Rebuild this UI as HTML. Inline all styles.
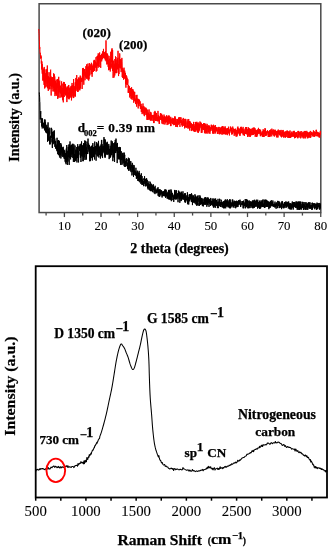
<!DOCTYPE html>
<html><head><meta charset="utf-8"><style>
html,body{margin:0;padding:0;background:#fff;width:331px;height:550px;overflow:hidden}
svg{display:block}
text{font-family:"Liberation Serif","Times New Roman",serif}
.b{font-weight:bold;stroke:#000;stroke-width:0.25px}
</style></head><body>
<svg width="331" height="550" viewBox="0 0 331 550">
<rect width="331" height="550" fill="#fff"/>
<!-- top plot -->
<rect x="39.1" y="3.75" width="281.70" height="208.80" fill="none" stroke="#4a4a4a" stroke-width="1.5"/>
<polyline points="38.80,29.00 38.92,31.66 39.04,33.50 39.16,35.39 39.28,39.07 39.40,41.16 39.52,44.79 39.64,48.86 39.76,47.13 39.88,48.57 40.00,51.91 40.12,52.87 40.24,53.60 40.36,52.87 40.48,55.75 40.60,58.42 40.72,55.18 40.84,58.28 40.96,55.77 41.08,58.08 41.20,57.40 41.32,63.60 41.44,60.86 41.56,68.46 41.68,69.46 41.80,69.16 41.92,61.42 42.04,69.40 42.16,72.53 42.28,73.73 42.40,64.19 42.52,70.68 42.64,67.91 42.76,69.15 42.88,80.62 43.00,69.61 43.12,74.52 43.24,80.31 43.36,71.64 43.48,74.74 43.60,76.34 43.72,76.29 43.84,68.61 43.96,76.84 44.08,84.92 44.20,66.94 44.32,82.06 44.44,77.50 44.56,72.75 44.68,88.47 44.80,81.90 44.92,69.30 45.04,77.64 45.16,81.02 45.28,76.07 45.40,81.94 45.52,77.03 45.64,82.05 45.76,87.38 45.88,73.12 46.00,79.19 46.12,74.69 46.24,78.85 46.36,69.76 46.48,74.06 46.60,76.82 46.72,84.67 46.84,86.54 46.96,68.95 47.08,72.79 47.20,83.31 47.32,65.50 47.44,75.37 47.56,78.14 47.68,88.27 47.80,84.16 47.92,76.64 48.04,76.43 48.16,77.47 48.28,90.89 48.40,76.44 48.52,77.52 48.64,82.54 48.76,79.18 48.88,78.76 49.00,72.17 49.12,80.43 49.24,77.41 49.36,89.30 49.48,85.69 49.60,80.92 49.72,86.07 49.84,78.94 49.96,89.09 50.08,81.64 50.20,85.99 50.32,72.78 50.44,84.57 50.56,70.31 50.68,69.66 50.80,80.41 50.92,76.38 51.04,83.99 51.16,95.57 51.28,77.35 51.40,78.95 51.52,84.84 51.64,86.96 51.76,82.50 51.88,82.45 52.00,88.79 52.12,87.65 52.24,77.20 52.36,83.79 52.48,84.68 52.60,77.43 52.72,86.41 52.84,79.00 52.96,91.40 53.08,86.28 53.20,85.69 53.32,81.27 53.44,84.53 53.56,73.43 53.68,78.04 53.80,88.04 53.92,73.84 54.04,91.44 54.16,74.50 54.28,91.04 54.40,80.66 54.52,91.39 54.64,87.26 54.76,76.53 54.88,94.73 55.00,96.07 55.12,86.43 55.24,85.19 55.36,86.04 55.48,80.92 55.60,94.32 55.72,83.93 55.84,87.18 55.96,82.57 56.08,83.69 56.20,79.57 56.32,95.77 56.44,86.80 56.56,94.01 56.68,87.94 56.80,83.43 56.92,85.82 57.04,84.35 57.16,88.05 57.28,85.61 57.40,86.13 57.52,79.15 57.64,82.89 57.76,98.96 57.88,83.83 58.00,81.36 58.12,90.50 58.24,97.56 58.36,78.80 58.48,87.02 58.60,84.26 58.72,76.83 58.84,93.37 58.96,88.38 59.08,89.05 59.20,83.61 59.32,91.68 59.44,85.08 59.56,87.76 59.68,81.33 59.80,80.63 59.92,97.80 60.04,85.48 60.16,90.94 60.28,88.86 60.40,86.26 60.52,85.93 60.64,93.53 60.76,87.50 60.88,88.59 61.00,89.82 61.12,97.38 61.24,94.26 61.36,92.43 61.48,86.48 61.60,81.39 61.72,96.28 61.84,96.46 61.96,89.59 62.08,93.95 62.20,95.53 62.33,95.91 62.45,96.54 62.57,88.17 62.69,100.31 62.81,83.59 62.93,96.47 63.05,94.34 63.17,96.70 63.29,102.33 63.41,100.47 63.53,84.99 63.65,81.93 63.77,96.74 63.89,86.14 64.01,92.08 64.13,97.03 64.25,82.84 64.37,82.03 64.49,93.80 64.61,92.63 64.73,91.06 64.85,92.69 64.97,87.80 65.09,84.32 65.21,91.71 65.33,87.44 65.45,83.94 65.57,95.44 65.69,92.48 65.81,94.97 65.93,87.77 66.05,89.56 66.17,87.89 66.29,88.54 66.41,94.07 66.53,89.22 66.65,94.94 66.77,94.89 66.89,102.08 67.01,86.57 67.13,97.63 67.25,92.98 67.37,93.39 67.49,86.70 67.61,91.41 67.73,97.02 67.85,93.26 67.97,94.05 68.09,92.34 68.21,98.85 68.33,93.45 68.45,85.25 68.57,90.27 68.69,85.10 68.81,85.03 68.93,90.83 69.05,99.37 69.17,93.38 69.29,87.67 69.41,88.68 69.53,98.26 69.65,93.67 69.77,93.11 69.89,92.58 70.01,92.95 70.13,96.51 70.25,95.27 70.37,93.63 70.49,87.61 70.61,94.92 70.73,89.18 70.85,97.60 70.97,86.25 71.09,91.61 71.21,92.18 71.33,85.79 71.45,100.41 71.57,99.10 71.69,89.75 71.81,95.68 71.93,93.72 72.05,82.94 72.17,92.81 72.29,91.06 72.41,91.59 72.53,85.46 72.65,89.37 72.77,89.63 72.89,96.64 73.01,91.95 73.13,89.93 73.25,98.09 73.37,86.50 73.49,87.19 73.61,79.02 73.73,97.85 73.85,94.28 73.97,93.86 74.09,92.26 74.21,88.80 74.33,89.23 74.45,86.24 74.57,86.32 74.69,87.68 74.81,96.48 74.93,90.41 75.05,86.38 75.17,82.87 75.29,82.28 75.41,96.48 75.53,89.24 75.65,86.18 75.77,83.25 75.89,77.93 76.01,84.69 76.13,90.81 76.25,82.41 76.37,83.42 76.49,83.39 76.61,85.33 76.73,75.07 76.85,83.10 76.97,79.50 77.09,89.22 77.21,79.98 77.33,87.16 77.45,91.92 77.57,82.30 77.69,80.82 77.81,84.63 77.93,83.60 78.05,78.93 78.17,85.56 78.29,91.66 78.41,82.08 78.53,82.25 78.65,78.31 78.77,84.47 78.89,77.24 79.01,77.80 79.13,88.58 79.25,78.56 79.37,87.49 79.49,89.41 79.61,83.60 79.73,84.84 79.85,90.39 79.97,81.29 80.09,79.32 80.21,75.59 80.33,81.84 80.45,88.49 80.57,85.91 80.69,76.49 80.81,76.67 80.93,78.20 81.05,82.04 81.17,79.31 81.29,81.31 81.41,81.57 81.53,78.21 81.65,79.42 81.77,80.59 81.89,78.80 82.01,81.92 82.13,88.97 82.25,81.93 82.37,78.73 82.49,69.01 82.61,80.09 82.73,68.09 82.85,70.06 82.97,81.83 83.09,80.80 83.21,76.12 83.33,67.91 83.45,74.57 83.57,72.82 83.69,79.19 83.81,84.72 83.93,76.64 84.05,71.61 84.17,69.56 84.29,74.91 84.41,74.21 84.53,69.26 84.65,75.45 84.77,68.99 84.89,80.25 85.01,79.91 85.13,79.94 85.25,71.91 85.37,76.85 85.49,73.43 85.61,71.99 85.73,72.13 85.85,67.01 85.97,66.12 86.09,77.76 86.21,72.56 86.33,74.63 86.45,78.65 86.57,64.41 86.69,69.28 86.81,74.19 86.93,75.25 87.05,71.24 87.17,78.40 87.29,74.15 87.41,66.82 87.53,68.22 87.65,77.00 87.77,75.21 87.89,63.65 88.01,79.54 88.13,75.58 88.25,79.13 88.37,70.36 88.49,70.65 88.61,66.43 88.73,80.60 88.85,70.79 88.97,79.13 89.09,68.24 89.21,71.95 89.33,63.13 89.45,69.07 89.57,75.30 89.69,64.75 89.81,75.33 89.93,71.78 90.05,65.38 90.17,67.83 90.29,68.00 90.41,69.86 90.53,67.60 90.65,66.23 90.77,68.62 90.89,65.25 91.01,64.00 91.13,69.76 91.25,74.09 91.37,62.78 91.49,69.94 91.61,66.85 91.73,65.28 91.85,73.91 91.97,67.40 92.09,76.78 92.21,65.95 92.33,71.20 92.45,68.23 92.57,65.72 92.69,71.56 92.81,68.11 92.93,71.26 93.05,68.28 93.17,63.73 93.29,67.74 93.41,68.23 93.53,71.77 93.65,64.05 93.77,67.39 93.89,60.64 94.01,69.76 94.13,62.87 94.25,59.87 94.37,66.51 94.49,70.90 94.61,60.43 94.73,61.97 94.85,63.15 94.97,61.45 95.09,67.25 95.21,62.38 95.33,62.55 95.45,67.58 95.57,62.07 95.69,66.66 95.81,60.86 95.93,59.71 96.05,57.12 96.17,71.60 96.29,62.76 96.41,64.90 96.53,63.59 96.65,64.21 96.77,63.57 96.89,70.84 97.01,58.58 97.13,56.14 97.25,58.28 97.37,56.67 97.49,65.57 97.61,65.74 97.73,57.68 97.85,55.57 97.97,60.00 98.09,67.75 98.21,53.30 98.33,63.72 98.45,56.44 98.57,65.88 98.69,56.29 98.81,59.78 98.93,54.22 99.05,56.53 99.17,67.08 99.29,64.46 99.41,58.90 99.53,56.72 99.65,52.44 99.77,58.72 99.89,60.28 100.01,59.96 100.13,59.79 100.25,55.02 100.37,59.66 100.49,59.66 100.61,65.58 100.73,67.82 100.85,58.83 100.97,55.81 101.09,58.90 101.21,56.28 101.33,55.52 101.45,58.55 101.57,53.86 101.69,61.39 101.81,57.96 101.93,59.49 102.05,57.36 102.17,54.74 102.29,53.63 102.41,56.88 102.53,55.35 102.65,58.93 102.77,57.75 102.89,51.33 103.01,57.93 103.13,51.28 103.25,54.59 103.37,56.02 103.49,48.90 103.61,57.67 103.73,57.87 103.85,56.36 103.97,55.04 104.09,55.35 104.21,52.69 104.33,56.04 104.45,54.86 104.57,57.87 104.69,52.19 104.81,58.69 104.93,58.38 105.05,57.23 105.17,56.04 105.29,60.40 105.41,51.05 105.53,60.17 105.65,59.34 105.77,59.60 105.89,60.10 106.01,40.40 106.13,57.72 106.25,61.54 106.37,60.85 106.49,60.10 106.61,53.32 106.73,61.76 106.85,64.45 106.97,63.96 107.09,61.01 107.21,54.04 107.33,64.14 107.45,59.98 107.57,53.60 107.69,62.37 107.81,55.20 107.93,56.14 108.05,58.84 108.17,66.82 108.29,60.09 108.41,63.08 108.53,70.18 108.65,69.90 108.77,61.83 108.89,61.26 109.01,55.92 109.13,59.00 109.26,65.42 109.38,65.48 109.50,63.98 109.62,69.66 109.74,58.71 109.86,63.44 109.98,68.88 110.10,68.03 110.22,71.52 110.34,66.93 110.46,61.96 110.58,66.85 110.70,56.87 110.82,52.05 110.94,68.75 111.06,63.97 111.18,66.85 111.30,51.07 111.42,61.61 111.54,59.71 111.66,57.52 111.78,49.62 111.90,61.89 112.02,48.30 112.14,67.95 112.26,59.71 112.38,64.60 112.50,70.90 112.62,50.08 112.74,63.70 112.86,68.99 112.98,70.03 113.10,77.87 113.22,73.37 113.34,67.02 113.46,66.91 113.58,70.48 113.70,60.66 113.82,64.32 113.94,71.11 114.06,77.50 114.18,63.67 114.30,64.59 114.42,66.44 114.54,74.48 114.66,65.11 114.78,75.47 114.90,59.04 115.02,64.47 115.14,64.53 115.26,71.19 115.38,72.99 115.50,56.39 115.62,60.45 115.74,68.68 115.86,62.44 115.98,57.13 116.10,73.26 116.22,69.65 116.34,69.49 116.46,63.10 116.58,72.65 116.70,64.27 116.82,72.81 116.94,59.51 117.06,59.70 117.18,66.51 117.30,60.32 117.42,69.33 117.54,66.39 117.66,58.26 117.78,64.81 117.90,61.76 118.02,50.80 118.14,59.70 118.26,61.02 118.38,72.13 118.50,76.07 118.62,76.01 118.74,64.38 118.86,65.40 118.98,74.04 119.10,63.13 119.22,57.58 119.34,64.69 119.46,66.84 119.58,58.59 119.70,53.38 119.82,54.76 119.94,68.12 120.06,59.21 120.18,63.27 120.30,65.65 120.42,68.30 120.54,62.65 120.66,67.85 120.78,59.72 120.90,63.06 121.02,59.38 121.14,72.11 121.26,65.57 121.38,61.70 121.50,64.09 121.62,65.01 121.74,70.28 121.86,57.88 121.98,61.16 122.10,65.15 122.22,76.99 122.34,72.90 122.46,67.92 122.58,72.38 122.70,77.96 122.82,68.70 122.94,68.56 123.06,76.05 123.18,73.24 123.30,74.38 123.42,69.88 123.54,79.66 123.66,79.53 123.78,75.44 123.90,76.25 124.02,67.67 124.14,76.90 124.26,74.34 124.38,77.03 124.50,78.37 124.62,75.11 124.74,70.68 124.86,78.54 124.98,74.97 125.10,76.89 125.22,76.33 125.34,77.72 125.46,72.85 125.58,84.23 125.70,81.17 125.82,84.72 125.94,87.68 126.06,81.56 126.18,75.21 126.30,78.76 126.42,77.89 126.54,80.71 126.66,83.07 126.78,76.51 126.90,84.54 127.02,78.11 127.14,84.90 127.26,83.69 127.38,83.22 127.50,84.35 127.62,82.93 127.74,82.93 127.86,79.34 127.98,85.55 128.10,92.49 128.22,92.84 128.34,91.45 128.46,89.59 128.58,84.96 128.70,92.95 128.82,87.89 128.94,88.20 129.06,87.75 129.18,89.48 129.30,87.93 129.42,89.55 129.54,86.28 129.66,89.20 129.78,97.45 129.90,91.00 130.02,90.71 130.14,93.68 130.26,94.49 130.38,88.06 130.50,91.52 130.62,95.78 130.74,93.60 130.86,93.24 130.98,98.61 131.10,90.69 131.22,93.62 131.34,91.61 131.46,99.07 131.58,87.29 131.70,91.58 131.82,92.27 131.94,96.77 132.06,96.74 132.18,99.77 132.30,89.18 132.42,97.78 132.54,94.17 132.66,92.99 132.78,97.54 132.90,92.42 133.02,89.38 133.14,94.76 133.26,90.84 133.38,94.10 133.50,97.97 133.62,97.93 133.74,102.73 133.86,96.42 133.98,91.76 134.10,94.76 134.22,94.34 134.34,93.44 134.46,99.61 134.58,95.87 134.70,91.85 134.82,101.08 134.94,98.33 135.06,100.20 135.18,99.47 135.30,101.55 135.42,99.58 135.54,104.08 135.66,101.33 135.78,101.39 135.90,101.63 136.02,95.08 136.14,99.81 136.26,99.55 136.38,101.31 136.50,95.76 136.62,106.61 136.74,101.19 136.86,96.55 136.98,94.84 137.10,100.06 137.22,100.83 137.34,98.66 137.46,101.65 137.58,99.10 137.70,103.47 137.82,98.97 137.94,101.52 138.06,105.33 138.18,108.45 138.30,98.87 138.42,101.04 138.54,100.07 138.66,105.75 138.78,99.68 138.90,102.13 139.02,103.85 139.14,101.18 139.26,101.56 139.38,103.31 139.50,99.68 139.62,101.09 139.74,104.36 139.86,106.21 139.98,105.55 140.10,101.33 140.22,105.06 140.34,108.71 140.46,108.18 140.58,106.52 140.70,104.32 140.82,108.84 140.94,105.44 141.06,103.81 141.18,105.01 141.30,111.89 141.42,108.33 141.54,111.35 141.66,106.45 141.78,110.98 141.90,106.30 142.02,107.82 142.14,114.11 142.26,110.91 142.38,106.98 142.50,108.38 142.62,109.77 142.74,112.65 142.86,107.36 142.98,103.48 143.10,108.19 143.22,109.20 143.34,109.59 143.46,113.49 143.58,110.41 143.70,112.06 143.82,106.09 143.94,112.40 144.06,115.51 144.18,112.38 144.30,110.85 144.42,110.67 144.54,116.16 144.66,107.36 144.78,110.19 144.90,112.24 145.02,113.34 145.14,109.47 145.26,112.14 145.38,110.26 145.50,111.77 145.62,111.02 145.74,107.58 145.86,111.67 145.98,115.03 146.10,108.57 146.22,111.36 146.34,114.79 146.46,108.72 146.58,113.40 146.70,109.11 146.82,117.17 146.94,119.76 147.06,119.94 147.18,112.83 147.30,116.45 147.42,114.40 147.54,114.50 147.66,119.88 147.78,109.74 147.90,118.45 148.02,114.64 148.14,119.93 148.26,115.66 148.38,112.70 148.50,116.14 148.62,117.82 148.74,115.46 148.86,117.11 148.98,113.72 149.10,109.44 149.22,118.74 149.34,118.13 149.46,116.36 149.58,116.18 149.70,119.46 149.82,114.62 149.94,113.90 150.06,115.66 150.18,120.17 150.30,111.85 150.42,120.24 150.54,114.35 150.66,112.90 150.78,120.56 150.90,116.22 151.02,112.39 151.14,115.46 151.26,119.63 151.38,120.50 151.50,115.35 151.62,118.05 151.74,119.07 151.86,114.78 151.98,118.00 152.10,116.81 152.22,115.25 152.34,115.43 152.46,117.23 152.58,117.15 152.70,115.31 152.82,115.79 152.94,120.67 153.06,117.88 153.18,120.02 153.30,121.04 153.42,119.16 153.54,122.99 153.66,114.83 153.78,119.95 153.90,116.48 154.02,123.10 154.14,122.79 154.26,111.93 154.38,114.54 154.50,119.62 154.62,120.03 154.74,119.88 154.86,117.39 154.98,110.90 155.10,119.66 155.22,117.41 155.34,120.85 155.46,112.08 155.58,119.66 155.70,114.51 155.82,120.70 155.94,117.03 156.06,115.00 156.19,118.93 156.31,114.96 156.43,114.97 156.55,112.96 156.67,117.75 156.79,119.39 156.91,121.03 157.03,117.44 157.15,121.14 157.27,117.96 157.39,117.63 157.51,119.72 157.63,121.23 157.75,116.91 157.87,117.23 157.99,110.90 158.11,118.28 158.23,115.28 158.35,121.25 158.47,116.89 158.59,119.57 158.71,115.67 158.83,119.31 158.95,119.44 159.07,117.01 159.19,123.76 159.31,119.46 159.43,123.71 159.55,121.28 159.67,116.46 159.79,117.33 159.91,119.79 160.03,118.71 160.15,118.71 160.27,117.75 160.39,113.33 160.51,118.00 160.63,113.42 160.75,119.80 160.87,116.65 160.99,116.72 161.11,118.18 161.23,119.63 161.35,114.77 161.47,113.91 161.59,115.90 161.71,113.84 161.83,116.27 161.95,123.53 162.07,116.09 162.19,120.92 162.31,115.27 162.43,119.98 162.55,118.28 162.67,119.03 162.79,120.81 162.91,124.13 163.03,119.82 163.15,119.65 163.27,116.65 163.39,120.97 163.51,118.71 163.63,121.70 163.75,119.32 163.87,124.23 163.99,114.57 164.11,118.72 164.23,121.95 164.35,118.63 164.47,117.46 164.59,118.91 164.71,115.94 164.83,120.01 164.95,124.56 165.07,122.81 165.19,116.80 165.31,117.46 165.43,118.74 165.55,122.52 165.67,117.70 165.79,118.08 165.91,122.26 166.03,122.24 166.15,119.00 166.27,117.05 166.39,115.93 166.51,118.21 166.63,115.28 166.75,122.12 166.87,118.46 166.99,121.46 167.11,125.05 167.23,123.38 167.35,117.15 167.47,122.63 167.59,123.44 167.71,118.31 167.83,117.77 167.95,120.09 168.07,116.04 168.19,124.47 168.31,115.52 168.43,117.45 168.55,119.78 168.67,119.92 168.79,121.04 168.91,121.36 169.03,120.04 169.15,123.82 169.27,115.65 169.39,120.71 169.51,118.74 169.63,121.14 169.75,121.41 169.87,118.25 169.99,119.04 170.11,123.10 170.23,121.87 170.35,118.98 170.47,126.02 170.59,126.03 170.71,116.83 170.83,121.83 170.95,126.09 171.07,123.22 171.19,121.65 171.31,120.46 171.43,119.54 171.55,120.48 171.67,119.55 171.79,123.22 171.91,120.01 172.03,119.91 172.15,117.78 172.27,121.05 172.39,118.69 172.51,120.72 172.63,124.18 172.75,122.29 172.87,122.70 172.99,122.30 173.11,121.48 173.23,120.98 173.35,120.48 173.47,123.51 173.59,118.33 173.71,125.19 173.83,121.52 173.95,119.33 174.07,120.08 174.19,119.57 174.31,121.95 174.43,119.49 174.55,124.75 174.67,119.35 174.79,116.47 174.91,119.52 175.03,116.51 175.15,121.51 175.27,124.63 175.39,123.49 175.51,117.90 175.63,119.54 175.75,126.73 175.87,122.63 175.99,121.76 176.11,124.75 176.23,126.88 176.35,125.46 176.47,122.21 176.59,122.84 176.71,123.60 176.83,120.15 176.95,118.91 177.07,122.06 177.19,119.26 177.31,121.77 177.43,122.24 177.55,127.08 177.67,119.60 177.79,121.67 177.91,121.57 178.03,123.29 178.15,125.03 178.27,120.71 178.39,119.79 178.51,117.50 178.63,119.53 178.75,123.68 178.87,122.31 178.99,119.33 179.11,121.16 179.23,122.32 179.35,123.67 179.47,120.60 179.59,121.58 179.71,117.21 179.83,119.08 179.95,126.91 180.07,117.26 180.19,121.43 180.31,123.01 180.43,121.36 180.55,120.15 180.67,122.28 180.79,122.45 180.91,122.25 181.03,117.41 181.15,122.11 181.27,120.13 181.39,121.01 181.51,123.22 181.63,124.40 181.75,125.14 181.87,121.23 181.99,125.26 182.11,125.99 182.23,125.92 182.35,126.67 182.47,122.34 182.59,122.29 182.71,125.16 182.83,118.93 182.95,123.46 183.07,121.37 183.19,121.86 183.31,117.93 183.43,120.40 183.55,122.94 183.67,125.60 183.79,125.93 183.91,122.85 184.03,122.56 184.15,120.71 184.27,124.34 184.39,122.46 184.51,124.99 184.63,128.40 184.75,123.17 184.87,118.87 184.99,120.77 185.11,119.03 185.23,119.82 185.35,127.29 185.47,124.11 185.59,118.92 185.71,125.44 185.83,127.29 185.95,122.46 186.07,121.54 186.19,122.60 186.31,124.52 186.43,125.64 186.55,127.32 186.67,127.46 186.79,127.42 186.91,128.00 187.03,125.93 187.15,119.32 187.27,123.61 187.39,125.01 187.51,122.93 187.63,126.92 187.75,123.09 187.87,121.40 187.99,128.68 188.11,126.35 188.23,125.03 188.35,127.24 188.47,127.70 188.59,125.54 188.71,118.99 188.83,122.50 188.95,123.22 189.07,121.63 189.19,125.32 189.31,128.43 189.43,123.30 189.55,121.33 189.67,130.47 189.79,123.53 189.91,121.15 190.03,125.75 190.15,126.38 190.27,122.93 190.39,127.59 190.51,123.70 190.63,122.40 190.75,125.84 190.87,127.71 190.99,123.44 191.11,126.45 191.23,125.19 191.35,131.06 191.47,123.41 191.59,129.85 191.71,125.51 191.83,125.33 191.95,127.96 192.07,128.53 192.19,129.71 192.31,126.90 192.43,124.13 192.55,124.37 192.67,127.58 192.79,127.84 192.91,130.36 193.03,127.44 193.15,129.42 193.27,130.84 193.39,126.82 193.51,121.91 193.63,122.88 193.75,122.16 193.87,131.27 193.99,124.02 194.11,130.28 194.23,128.40 194.35,131.81 194.47,129.73 194.59,126.49 194.71,126.24 194.83,127.14 194.95,127.45 195.07,125.39 195.19,126.87 195.31,131.75 195.43,121.95 195.55,127.77 195.67,124.33 195.79,127.58 195.91,129.53 196.03,126.88 196.15,129.36 196.27,122.36 196.39,130.37 196.51,125.31 196.63,128.96 196.75,127.67 196.87,121.78 196.99,124.91 197.11,127.82 197.23,131.79 197.35,128.04 197.47,127.96 197.59,123.01 197.71,131.47 197.83,132.60 197.95,127.33 198.07,126.60 198.19,122.46 198.31,129.91 198.43,132.66 198.55,129.44 198.67,131.07 198.79,128.94 198.91,124.41 199.03,131.33 199.15,123.69 199.27,126.75 199.39,128.22 199.51,130.03 199.63,128.65 199.75,128.58 199.87,125.17 199.99,121.50 200.11,127.66 200.23,125.39 200.35,123.65 200.47,123.81 200.59,126.13 200.71,122.29 200.83,123.67 200.95,122.86 201.07,128.20 201.19,128.88 201.31,132.95 201.43,123.40 201.55,125.80 201.67,130.41 201.79,127.19 201.91,126.90 202.03,132.75 202.15,126.92 202.27,124.61 202.39,124.19 202.51,128.90 202.63,128.84 202.75,124.13 202.87,125.25 202.99,129.55 203.11,129.69 203.24,126.30 203.36,129.85 203.48,129.73 203.60,123.22 203.72,127.33 203.84,129.36 203.96,126.66 204.08,123.30 204.20,127.51 204.32,130.37 204.44,132.64 204.56,123.45 204.68,133.28 204.80,125.36 204.92,131.02 205.04,131.78 205.16,131.12 205.28,128.89 205.40,125.37 205.52,130.20 205.64,126.60 205.76,123.69 205.88,133.41 206.00,130.47 206.12,133.43 206.24,126.15 206.36,132.55 206.48,132.89 206.60,132.81 206.72,128.60 206.84,125.45 206.96,128.21 207.08,123.86 207.20,124.16 207.32,128.97 207.44,126.09 207.56,128.32 207.68,128.48 207.80,133.61 207.92,132.26 208.04,128.69 208.16,132.05 208.28,126.76 208.40,127.96 208.52,131.30 208.64,125.58 208.76,128.16 208.88,125.40 209.00,129.24 209.12,133.29 209.24,126.96 209.36,129.57 209.48,126.60 209.60,125.95 209.72,125.74 209.84,132.89 209.96,133.84 210.08,130.33 210.20,127.17 210.32,130.93 210.44,128.20 210.56,131.19 210.68,129.85 210.80,129.83 210.92,130.69 211.04,127.60 211.16,128.07 211.28,124.66 211.40,127.99 211.52,125.46 211.64,128.77 211.76,126.69 211.88,129.42 212.00,130.33 212.12,125.54 212.24,127.11 212.36,126.79 212.48,131.10 212.60,133.54 212.72,131.37 212.84,128.34 212.96,132.93 213.08,125.42 213.20,133.01 213.32,127.60 213.44,124.73 213.56,133.78 213.68,133.21 213.80,126.71 213.92,129.70 214.04,128.76 214.16,129.55 214.28,125.65 214.40,127.64 214.52,130.47 214.64,129.87 214.76,132.27 214.88,129.54 215.00,133.75 215.12,127.62 215.24,130.01 215.36,125.00 215.48,126.36 215.60,132.65 215.72,127.14 215.84,130.74 215.96,129.31 216.08,126.94 216.20,128.65 216.32,128.26 216.44,128.34 216.56,131.36 216.68,131.13 216.80,128.17 216.92,127.38 217.04,130.28 217.16,129.37 217.28,132.11 217.40,134.01 217.52,131.69 217.64,129.58 217.76,129.27 217.88,127.63 218.00,127.52 218.12,127.30 218.24,128.79 218.36,128.72 218.48,131.56 218.60,128.82 218.72,129.32 218.84,126.88 218.96,133.78 219.08,131.06 219.20,134.15 219.32,131.78 219.44,133.46 219.56,129.30 219.68,131.63 219.80,134.26 219.92,127.01 220.04,132.77 220.16,134.04 220.28,130.99 220.40,131.83 220.52,133.08 220.64,128.42 220.76,131.04 220.88,127.93 221.00,128.42 221.12,128.58 221.24,129.75 221.36,130.47 221.48,131.23 221.60,126.68 221.72,134.46 221.84,132.99 221.96,131.96 222.08,129.33 222.20,130.00 222.32,131.56 222.44,131.25 222.56,126.17 222.68,132.08 222.80,134.58 222.92,126.01 223.04,132.74 223.16,131.23 223.28,130.07 223.40,133.69 223.52,127.50 223.64,130.78 223.76,133.96 223.88,129.94 224.00,129.41 224.12,130.72 224.24,129.38 224.36,134.23 224.48,128.29 224.60,132.62 224.72,127.48 224.84,132.15 224.96,130.29 225.08,126.29 225.20,130.56 225.32,127.99 225.44,129.51 225.56,134.36 225.68,127.89 225.80,128.04 225.92,134.17 226.04,130.94 226.16,134.45 226.28,131.47 226.40,128.52 226.52,130.54 226.64,133.75 226.76,133.05 226.88,130.74 227.00,130.87 227.12,130.48 227.24,129.34 227.36,135.15 227.48,130.82 227.60,127.99 227.72,129.63 227.84,132.65 227.96,132.45 228.08,130.51 228.20,129.19 228.32,130.94 228.44,126.69 228.56,127.63 228.68,132.93 228.80,129.72 228.92,131.89 229.04,134.03 229.16,132.61 229.28,131.03 229.40,135.45 229.52,132.70 229.64,130.11 229.76,132.89 229.88,132.08 230.00,128.87 230.12,131.25 230.24,130.65 230.36,126.57 230.48,130.65 230.60,130.37 230.72,129.98 230.84,126.86 230.96,130.21 231.08,131.03 231.20,131.41 231.32,128.19 231.44,132.82 231.56,127.99 231.68,130.60 231.80,134.63 231.92,129.38 232.04,129.87 232.16,134.07 232.28,130.22 232.40,130.45 232.52,131.84 232.64,134.07 232.76,126.57 232.88,129.06 233.00,128.59 233.12,128.38 233.24,129.01 233.36,129.06 233.48,132.15 233.60,128.93 233.72,131.68 233.84,132.45 233.96,129.38 234.08,131.74 234.20,135.87 234.32,132.28 234.44,129.66 234.56,131.24 234.68,128.91 234.80,132.19 234.92,133.83 235.04,129.19 235.16,130.89 235.28,134.57 235.40,130.10 235.52,132.02 235.64,128.65 235.76,129.23 235.88,130.09 236.00,136.50 236.12,130.42 236.24,130.09 236.36,130.01 236.48,131.12 236.60,133.41 236.72,132.12 236.84,136.64 236.96,132.21 237.08,135.67 237.20,132.41 237.32,133.34 237.44,127.59 237.56,131.31 237.68,131.48 237.80,131.00 237.92,126.57 238.04,134.20 238.16,130.61 238.28,130.47 238.40,130.99 238.52,131.07 238.64,132.87 238.76,128.13 238.88,129.10 239.00,132.55 239.12,132.14 239.24,130.68 239.36,130.13 239.48,129.40 239.60,131.58 239.72,135.07 239.84,128.79 239.96,136.03 240.08,134.13 240.20,130.50 240.32,133.96 240.44,127.67 240.56,126.94 240.68,128.18 240.80,130.64 240.92,130.88 241.04,130.36 241.16,132.07 241.28,126.77 241.40,133.18 241.52,127.86 241.64,129.97 241.76,130.67 241.88,128.61 242.00,128.02 242.12,129.04 242.24,131.79 242.36,133.46 242.48,133.39 242.60,129.09 242.72,129.66 242.84,129.31 242.96,133.09 243.08,126.88 243.20,135.26 243.32,130.53 243.44,129.71 243.56,132.80 243.68,134.70 243.80,132.81 243.92,134.76 244.04,132.25 244.16,135.25 244.28,135.29 244.40,131.62 244.52,135.83 244.64,132.35 244.76,132.14 244.88,129.40 245.00,131.12 245.12,134.03 245.24,128.35 245.36,133.69 245.48,132.87 245.60,132.68 245.72,127.03 245.84,131.66 245.96,133.69 246.08,129.88 246.20,132.19 246.32,127.07 246.44,133.77 246.56,130.17 246.68,134.31 246.80,127.10 246.92,133.83 247.04,131.33 247.16,134.15 247.28,129.49 247.40,130.32 247.52,136.83 247.64,129.77 247.76,130.10 247.88,131.26 248.00,129.27 248.12,135.18 248.24,136.61 248.36,130.14 248.48,127.42 248.60,135.14 248.72,134.97 248.84,134.21 248.96,135.10 249.08,129.74 249.20,131.60 249.32,128.38 249.44,128.30 249.56,134.65 249.68,130.28 249.80,136.83 249.92,132.26 250.04,130.38 250.17,134.18 250.29,136.82 250.41,133.36 250.53,128.89 250.65,133.07 250.77,135.70 250.89,130.81 251.01,130.08 251.13,134.77 251.25,132.48 251.37,129.24 251.49,131.13 251.61,130.16 251.73,132.90 251.85,132.42 251.97,135.13 252.09,133.98 252.21,128.09 252.33,133.21 252.45,134.48 252.57,133.34 252.69,134.83 252.81,130.75 252.93,129.72 253.05,134.57 253.17,129.44 253.29,127.54 253.41,134.82 253.53,130.33 253.65,131.41 253.77,128.62 253.89,128.81 254.01,129.25 254.13,131.29 254.25,133.16 254.37,127.61 254.49,134.14 254.61,129.22 254.73,129.52 254.85,133.96 254.97,132.05 255.09,128.35 255.21,136.83 255.33,130.08 255.45,132.89 255.57,132.77 255.69,135.83 255.81,131.12 255.93,134.82 256.05,130.41 256.17,135.11 256.29,130.37 256.41,131.38 256.53,136.83 256.65,133.10 256.77,132.58 256.89,136.83 257.01,133.22 257.13,130.28 257.25,134.16 257.37,129.38 257.49,135.14 257.61,135.34 257.73,130.92 257.85,130.78 257.97,132.79 258.09,132.39 258.21,129.93 258.33,133.76 258.45,127.87 258.57,131.28 258.69,131.36 258.81,131.68 258.93,133.12 259.05,129.32 259.17,133.82 259.29,131.92 259.41,130.75 259.53,128.98 259.65,129.44 259.77,133.26 259.89,129.99 260.01,132.53 260.13,135.00 260.25,134.92 260.37,136.23 260.49,131.64 260.61,129.70 260.73,134.90 260.85,133.14 260.97,135.15 261.09,132.41 261.21,135.33 261.33,134.47 261.45,134.15 261.57,133.63 261.69,133.37 261.81,132.96 261.93,132.95 262.05,134.83 262.17,131.13 262.29,136.66 262.41,132.13 262.53,134.82 262.65,132.17 262.77,131.79 262.89,136.84 263.01,131.64 263.13,129.27 263.25,130.65 263.37,131.63 263.49,136.84 263.61,132.91 263.73,134.70 263.85,129.95 263.97,133.27 264.09,134.06 264.21,136.82 264.33,130.71 264.45,133.89 264.57,133.16 264.69,129.92 264.81,132.37 264.93,131.78 265.05,128.01 265.17,133.88 265.29,133.74 265.41,131.35 265.53,129.16 265.65,136.04 265.77,133.08 265.89,134.91 266.01,135.87 266.13,131.16 266.25,134.41 266.37,131.85 266.49,132.28 266.61,132.23 266.73,132.43 266.85,135.15 266.97,132.74 267.09,132.07 267.21,131.77 267.33,133.27 267.45,130.27 267.57,131.22 267.69,132.32 267.81,131.07 267.93,132.16 268.05,130.97 268.17,136.85 268.29,135.70 268.41,133.58 268.53,132.38 268.65,136.88 268.77,133.31 268.89,132.33 269.01,133.28 269.13,133.30 269.25,135.96 269.37,132.55 269.49,136.93 269.61,130.51 269.73,134.29 269.85,130.26 269.97,136.96 270.09,131.88 270.21,132.54 270.33,134.89 270.45,135.68 270.57,130.09 270.69,131.91 270.81,129.45 270.93,133.08 271.05,132.53 271.17,131.96 271.29,131.19 271.41,131.90 271.53,131.07 271.65,134.07 271.77,136.39 271.89,128.65 272.01,132.60 272.13,131.91 272.25,134.04 272.37,130.70 272.49,132.58 272.61,130.53 272.73,134.56 272.85,133.19 272.97,132.60 273.09,133.84 273.21,132.43 273.33,129.44 273.45,134.39 273.57,133.70 273.69,132.69 273.81,135.31 273.93,135.85 274.05,130.60 274.17,131.32 274.29,136.63 274.41,136.34 274.53,131.46 274.65,130.47 274.77,131.72 274.89,132.05 275.01,129.61 275.13,133.27 275.25,130.33 275.37,130.50 275.49,135.29 275.61,131.72 275.73,133.10 275.85,134.68 275.97,135.10 276.09,132.55 276.21,133.41 276.33,131.49 276.45,137.22 276.57,134.79 276.69,130.92 276.81,133.38 276.93,134.96 277.05,134.46 277.17,137.39 277.29,136.44 277.41,132.25 277.53,133.26 277.65,130.66 277.77,134.02 277.89,133.82 278.01,137.44 278.13,133.72 278.25,129.58 278.37,132.06 278.49,133.77 278.61,130.80 278.73,131.65 278.85,132.75 278.97,134.29 279.09,133.20 279.21,131.63 279.33,135.27 279.45,132.41 279.57,132.50 279.69,130.61 279.81,131.89 279.93,135.00 280.05,130.12 280.17,133.46 280.29,135.16 280.41,132.81 280.53,134.14 280.65,131.24 280.77,136.45 280.89,136.00 281.01,134.15 281.13,129.90 281.25,131.43 281.37,135.76 281.49,137.33 281.61,134.31 281.73,136.35 281.85,132.40 281.97,133.30 282.09,133.71 282.21,134.61 282.33,130.47 282.45,135.72 282.57,136.53 282.69,131.30 282.81,130.87 282.93,134.49 283.05,132.37 283.17,129.94 283.29,135.47 283.41,134.10 283.53,132.77 283.65,137.59 283.77,134.08 283.89,132.21 284.01,134.01 284.13,131.62 284.25,132.22 284.37,134.63 284.49,132.66 284.61,132.89 284.73,137.33 284.85,135.64 284.97,135.52 285.09,134.96 285.21,134.87 285.33,136.90 285.45,133.83 285.57,137.63 285.69,131.91 285.81,133.36 285.93,131.04 286.05,133.19 286.17,134.99 286.29,136.93 286.41,132.56 286.53,133.95 286.65,133.20 286.77,132.43 286.89,131.50 287.01,134.10 287.13,130.40 287.25,134.22 287.37,134.05 287.49,132.65 287.61,131.93 287.73,131.17 287.85,137.78 287.97,131.27 288.09,137.28 288.21,135.31 288.33,133.32 288.45,131.69 288.57,136.25 288.69,137.68 288.81,132.18 288.93,133.50 289.05,136.30 289.17,134.83 289.29,137.88 289.41,132.98 289.53,135.28 289.65,131.59 289.77,137.91 289.89,132.69 290.01,130.48 290.13,133.95 290.25,133.93 290.37,137.95 290.49,133.54 290.61,134.22 290.73,135.48 290.85,137.53 290.97,134.14 291.09,136.42 291.21,135.36 291.33,133.69 291.45,134.47 291.57,134.38 291.69,132.44 291.81,136.83 291.93,131.49 292.05,136.76 292.17,136.33 292.29,134.18 292.41,132.81 292.53,133.92 292.65,135.37 292.77,135.93 292.89,135.01 293.01,136.46 293.13,133.29 293.25,134.93 293.37,131.23 293.49,136.03 293.61,134.79 293.73,133.63 293.85,136.87 293.97,135.92 294.09,130.80 294.21,134.60 294.33,131.54 294.45,136.72 294.57,138.25 294.69,133.49 294.81,134.71 294.93,134.06 295.05,135.30 295.17,135.91 295.29,137.23 295.41,132.58 295.53,137.83 295.65,132.72 295.77,135.20 295.89,137.01 296.01,136.11 296.13,132.73 296.25,133.21 296.37,133.70 296.49,134.55 296.61,137.00 296.73,132.01 296.85,135.60 296.97,135.90 297.10,135.79 297.22,135.60 297.34,137.76 297.46,135.65 297.58,136.40 297.70,135.80 297.82,138.32 297.94,130.95 298.06,137.27 298.18,134.12 298.30,134.08 298.42,132.67 298.54,130.95 298.66,133.87 298.78,133.24 298.90,135.66 299.02,131.64 299.14,137.58 299.26,135.21 299.38,134.14 299.50,133.20 299.62,133.04 299.74,132.34 299.86,133.54 299.98,134.66 300.10,134.29 300.22,131.76 300.34,134.11 300.46,132.82 300.58,134.98 300.70,138.35 300.82,135.93 300.94,134.01 301.06,131.33 301.18,131.76 301.30,131.20 301.42,136.14 301.54,133.08 301.66,134.78 301.78,133.38 301.90,134.84 302.02,137.52 302.14,133.25 302.26,133.95 302.38,133.00 302.50,136.44 302.62,132.55 302.74,132.33 302.86,131.81 302.98,131.77 303.10,135.61 303.22,138.35 303.34,132.61 303.46,136.60 303.58,135.16 303.70,132.40 303.82,134.08 303.94,134.17 304.06,133.24 304.18,138.35 304.30,130.95 304.42,135.43 304.54,135.33 304.66,133.46 304.78,134.96 304.90,136.45 305.02,134.96 305.14,135.50 305.26,136.07 305.38,130.95 305.50,137.67 305.62,138.35 305.74,136.66 305.86,136.72 305.98,131.77 306.10,134.40 306.22,132.97 306.34,133.42 306.46,136.59 306.58,132.95 306.70,134.32 306.82,130.86 306.94,134.24 307.06,134.74 307.18,133.09 307.30,133.05 307.42,138.25 307.54,132.02 307.66,132.33 307.78,132.82 307.90,136.96 308.02,138.20 308.14,135.15 308.26,132.96 308.38,133.55 308.50,136.63 308.62,132.52 308.74,137.42 308.86,137.34 308.98,134.53 309.10,135.72 309.22,135.92 309.34,137.59 309.46,132.15 309.58,136.79 309.70,133.53 309.82,132.70 309.94,134.51 310.06,133.84 310.18,132.21 310.30,130.92 310.42,132.28 310.54,137.29 310.66,138.02 310.78,135.58 310.90,136.70 311.02,133.11 311.14,134.03 311.26,134.77 311.38,131.89 311.50,132.07 311.62,134.35 311.74,133.46 311.86,131.88 311.98,134.93 312.10,133.54 312.22,136.25 312.34,134.07 312.46,133.43 312.58,134.33 312.70,133.68 312.82,132.62 312.94,133.17 313.06,135.61 313.18,135.38 313.30,136.73 313.42,130.38 313.54,133.13 313.66,133.08 313.78,134.32 313.90,132.98 314.02,132.83 314.14,135.59 314.26,134.29 314.38,131.40 314.50,136.74 314.62,136.01 314.74,132.63 314.86,135.63 314.98,132.27 315.10,136.25 315.22,133.35 315.34,132.09 315.46,133.00 315.58,132.14 315.70,134.19 315.82,134.14 315.94,133.83 316.06,132.55 316.18,129.87 316.30,133.96 316.42,129.88 316.54,134.29 316.66,136.20 316.78,134.36 316.90,132.95 317.02,133.40 317.14,133.50 317.26,132.62 317.38,132.55 317.50,131.83 317.62,136.33 317.74,133.77 317.86,135.84 317.98,133.29 318.10,133.97 318.22,133.46 318.34,134.81 318.46,135.58 318.58,134.34 318.70,132.42 318.82,132.20 318.94,137.33 319.06,133.26 319.18,133.25 319.30,136.93 319.42,136.14 319.54,134.98 319.66,133.04 319.78,137.64 319.90,134.70 320.02,135.02 320.14,133.53 320.26,130.95 320.38,131.13 320.50,134.74" fill="none" stroke="#ff0000" stroke-width="1.0" stroke-linejoin="miter"/>
<polyline points="39.30,92.43 39.42,94.64 39.54,96.08 39.66,97.87 39.78,101.98 39.90,102.34 40.02,110.79 40.14,114.86 40.26,119.42 40.38,117.89 40.50,114.06 40.62,114.06 40.74,111.09 40.86,116.08 40.98,118.09 41.10,122.69 41.22,121.85 41.34,122.21 41.46,121.35 41.58,123.36 41.70,126.50 41.82,118.38 41.94,120.93 42.06,118.09 42.18,128.45 42.30,127.56 42.42,125.86 42.54,119.10 42.66,124.13 42.78,122.80 42.90,124.10 43.02,123.25 43.14,126.07 43.26,122.73 43.38,127.71 43.50,125.49 43.62,123.52 43.74,124.38 43.86,123.19 43.98,128.48 44.10,124.23 44.22,126.87 44.34,124.17 44.46,119.61 44.58,130.40 44.70,121.85 44.82,129.98 44.94,129.08 45.06,119.57 45.18,123.11 45.30,125.39 45.42,124.10 45.54,122.50 45.66,132.38 45.78,127.66 45.90,131.14 46.02,127.12 46.14,131.17 46.26,125.77 46.38,129.78 46.50,133.20 46.62,130.52 46.74,128.00 46.86,124.77 46.98,131.73 47.10,132.88 47.22,129.77 47.34,127.14 47.46,134.53 47.58,141.72 47.70,130.22 47.82,133.96 47.94,134.38 48.06,122.37 48.18,133.36 48.30,129.01 48.42,140.66 48.54,131.95 48.66,129.37 48.78,132.59 48.90,134.85 49.02,131.26 49.14,134.13 49.26,127.66 49.38,133.69 49.50,138.97 49.62,144.32 49.74,138.99 49.86,137.04 49.98,141.69 50.10,141.02 50.22,144.33 50.34,141.61 50.46,135.79 50.58,137.78 50.70,137.50 50.82,138.23 50.94,137.83 51.06,132.96 51.18,127.82 51.30,133.71 51.42,127.96 51.54,137.73 51.66,137.51 51.78,128.84 51.90,141.32 52.02,142.40 52.14,138.48 52.26,147.07 52.38,148.03 52.50,131.82 52.62,144.25 52.74,141.14 52.86,141.17 52.98,144.24 53.10,135.04 53.22,135.88 53.34,134.64 53.46,135.17 53.58,139.12 53.70,131.27 53.82,133.77 53.94,143.59 54.06,139.90 54.18,142.80 54.30,130.37 54.42,136.57 54.54,138.15 54.66,141.65 54.78,138.56 54.90,146.86 55.02,141.87 55.14,142.49 55.26,142.70 55.38,146.31 55.50,140.84 55.62,148.58 55.74,145.66 55.86,144.48 55.98,144.20 56.10,146.46 56.22,148.77 56.34,148.62 56.46,146.30 56.58,148.62 56.70,145.51 56.82,150.54 56.94,145.21 57.06,137.77 57.18,151.35 57.30,146.27 57.42,141.01 57.54,145.29 57.66,142.57 57.78,154.05 57.90,148.71 58.02,140.22 58.14,149.28 58.26,145.50 58.38,155.01 58.50,143.12 58.62,140.11 58.74,148.26 58.86,146.69 58.98,146.59 59.10,140.82 59.22,150.60 59.34,156.18 59.46,141.36 59.58,154.44 59.70,147.09 59.82,157.62 59.94,151.86 60.06,149.28 60.18,155.00 60.30,152.57 60.42,147.83 60.54,153.54 60.66,148.39 60.78,143.03 60.90,158.47 61.02,149.38 61.14,148.39 61.26,152.49 61.38,144.61 61.50,145.59 61.62,149.27 61.74,149.29 61.86,151.84 61.98,156.27 62.10,149.77 62.22,153.90 62.34,154.48 62.46,147.47 62.58,153.13 62.70,148.22 62.82,156.96 62.94,154.45 63.06,152.65 63.18,146.79 63.30,153.30 63.42,149.48 63.54,156.16 63.66,152.57 63.78,149.52 63.90,157.54 64.02,156.73 64.14,150.76 64.26,159.01 64.38,152.28 64.50,152.30 64.62,154.44 64.74,150.32 64.86,151.89 64.98,153.33 65.10,161.72 65.22,161.71 65.34,153.08 65.46,162.54 65.58,154.33 65.70,156.57 65.82,159.25 65.94,156.32 66.06,164.26 66.18,156.17 66.30,148.55 66.42,161.93 66.54,152.73 66.66,153.32 66.78,145.04 66.90,160.61 67.02,159.66 67.14,159.61 67.26,160.70 67.38,164.90 67.50,154.88 67.62,160.69 67.74,150.78 67.86,153.10 67.98,161.63 68.10,157.51 68.22,146.92 68.34,157.08 68.46,153.64 68.58,149.62 68.70,157.15 68.82,151.88 68.94,144.58 69.06,147.26 69.18,164.90 69.30,144.48 69.42,155.10 69.54,157.38 69.66,157.44 69.78,145.69 69.90,151.19 70.02,141.40 70.14,157.97 70.26,148.93 70.38,145.68 70.50,158.87 70.62,159.37 70.74,154.81 70.86,148.85 70.98,154.83 71.10,152.97 71.22,157.17 71.34,144.86 71.46,152.75 71.58,151.07 71.70,145.54 71.82,153.05 71.94,151.94 72.06,149.41 72.18,153.98 72.30,143.87 72.42,151.53 72.54,154.25 72.66,153.47 72.78,157.85 72.90,145.40 73.02,143.79 73.14,153.34 73.26,154.54 73.38,161.84 73.50,155.46 73.62,147.52 73.74,156.51 73.86,147.78 73.98,144.46 74.10,161.86 74.22,154.12 74.34,156.21 74.47,155.47 74.59,162.02 74.71,154.12 74.83,159.03 74.95,147.41 75.07,145.58 75.19,160.25 75.31,160.54 75.43,155.61 75.55,154.20 75.67,153.95 75.79,149.62 75.91,161.09 76.03,156.62 76.15,155.81 76.27,155.12 76.39,158.56 76.51,155.73 76.63,156.96 76.75,146.96 76.87,155.69 76.99,162.47 77.11,150.23 77.23,152.25 77.35,157.62 77.47,157.95 77.59,156.16 77.71,144.16 77.83,155.46 77.95,146.38 78.07,148.27 78.19,155.64 78.31,151.04 78.43,157.01 78.55,162.43 78.67,156.80 78.79,156.48 78.91,147.56 79.03,148.91 79.15,146.54 79.27,149.44 79.39,146.29 79.51,148.65 79.63,151.13 79.75,146.66 79.87,144.25 79.99,144.52 80.11,154.72 80.23,152.45 80.35,157.85 80.47,157.91 80.59,150.05 80.71,155.70 80.83,143.76 80.95,162.01 81.07,158.52 81.19,150.53 81.31,145.14 81.43,153.79 81.55,141.43 81.67,147.17 81.79,155.72 81.91,151.89 82.03,148.65 82.15,156.72 82.27,145.48 82.39,152.88 82.51,148.43 82.63,146.42 82.75,153.74 82.87,145.51 82.99,161.19 83.11,147.71 83.23,161.10 83.35,144.76 83.47,154.26 83.59,144.08 83.71,143.24 83.83,151.61 83.95,154.47 84.07,143.49 84.19,157.32 84.31,146.16 84.43,151.40 84.55,152.82 84.67,154.05 84.79,140.43 84.91,159.91 85.03,153.89 85.15,148.24 85.27,144.79 85.39,140.92 85.51,142.83 85.63,153.84 85.75,148.72 85.87,144.12 85.99,147.63 86.11,159.84 86.23,148.77 86.35,147.28 86.47,158.65 86.59,153.44 86.71,150.98 86.83,147.12 86.95,141.52 87.07,143.77 87.19,147.87 87.31,149.42 87.43,152.87 87.55,154.05 87.67,152.08 87.79,152.07 87.91,144.67 88.03,138.60 88.15,147.64 88.27,145.08 88.39,146.92 88.51,149.20 88.63,143.51 88.75,144.34 88.87,150.30 88.99,151.58 89.11,147.13 89.23,153.82 89.35,149.71 89.47,145.16 89.59,151.24 89.71,161.25 89.83,147.24 89.95,157.61 90.07,158.77 90.19,159.43 90.31,146.58 90.43,161.08 90.55,151.80 90.67,149.80 90.79,149.95 90.91,154.47 91.03,151.52 91.15,150.32 91.27,158.10 91.39,147.48 91.51,145.84 91.63,155.49 91.75,155.02 91.87,157.04 91.99,145.88 92.11,156.96 92.23,153.87 92.35,160.47 92.47,144.90 92.59,152.48 92.71,149.90 92.83,143.08 92.95,147.60 93.07,157.17 93.19,148.85 93.31,147.52 93.43,155.81 93.55,156.44 93.67,156.42 93.79,147.10 93.91,150.93 94.03,156.64 94.15,147.76 94.27,147.25 94.39,155.56 94.51,159.43 94.63,145.08 94.75,141.59 94.87,143.46 94.99,145.76 95.11,150.40 95.23,154.39 95.35,150.33 95.47,147.36 95.59,151.91 95.71,145.93 95.83,150.81 95.95,147.62 96.07,160.71 96.19,155.37 96.31,146.50 96.43,145.60 96.55,148.56 96.67,142.10 96.79,146.94 96.91,146.87 97.03,155.45 97.15,148.46 97.27,146.50 97.39,143.56 97.51,144.40 97.63,150.23 97.75,149.41 97.87,156.48 97.99,147.17 98.11,156.00 98.23,151.76 98.35,150.35 98.47,140.89 98.59,143.57 98.71,154.14 98.83,157.52 98.95,151.28 99.07,154.13 99.19,148.02 99.31,148.17 99.43,146.63 99.55,155.07 99.67,151.77 99.79,148.75 99.91,148.23 100.03,152.75 100.15,151.51 100.27,145.51 100.39,158.59 100.51,151.03 100.63,149.71 100.75,157.22 100.87,154.84 100.99,149.06 101.11,152.23 101.23,143.91 101.35,146.07 101.47,140.01 101.59,155.58 101.71,139.92 101.83,152.71 101.95,144.86 102.07,144.04 102.19,148.04 102.31,150.38 102.43,152.12 102.55,158.06 102.67,150.72 102.79,153.37 102.91,145.68 103.03,152.42 103.15,149.47 103.27,146.24 103.39,148.09 103.51,148.22 103.63,149.48 103.75,150.52 103.87,145.77 103.99,137.10 104.11,152.25 104.23,139.66 104.35,145.27 104.47,156.48 104.59,139.24 104.71,145.01 104.83,152.12 104.95,140.19 105.07,157.90 105.19,139.49 105.31,156.06 105.43,156.70 105.55,153.47 105.67,147.73 105.79,150.70 105.91,144.38 106.03,153.05 106.15,143.35 106.27,147.65 106.39,154.08 106.51,143.51 106.63,147.31 106.75,150.00 106.87,142.50 106.99,155.06 107.11,150.98 107.23,141.78 107.35,149.12 107.47,145.54 107.59,146.17 107.71,149.84 107.83,145.99 107.95,154.29 108.07,146.09 108.19,154.47 108.31,149.42 108.43,153.95 108.55,146.98 108.67,147.19 108.79,143.93 108.91,152.74 109.03,154.62 109.15,159.12 109.27,156.54 109.39,151.22 109.51,148.87 109.63,152.02 109.75,149.89 109.87,157.74 109.99,155.07 110.11,145.70 110.23,146.51 110.35,157.48 110.47,151.88 110.59,149.02 110.71,156.69 110.83,148.23 110.95,148.84 111.07,147.88 111.19,140.54 111.31,155.21 111.43,143.83 111.55,147.38 111.67,146.43 111.79,154.65 111.91,150.24 112.03,150.74 112.15,141.20 112.27,150.19 112.39,142.32 112.51,152.46 112.63,152.83 112.75,150.64 112.87,161.16 112.99,153.82 113.11,154.24 113.23,151.63 113.35,149.69 113.47,156.50 113.59,157.33 113.71,143.18 113.83,157.12 113.95,153.95 114.07,156.64 114.19,153.71 114.31,143.47 114.43,143.89 114.55,161.89 114.67,152.52 114.79,142.37 114.91,153.14 115.03,148.81 115.15,139.94 115.27,139.92 115.39,141.15 115.51,152.78 115.63,150.80 115.75,149.56 115.87,152.92 115.99,138.60 116.11,139.97 116.23,149.53 116.35,146.43 116.47,144.11 116.59,148.47 116.71,151.19 116.83,150.46 116.95,143.51 117.07,149.46 117.19,163.09 117.31,146.43 117.43,142.93 117.55,154.44 117.67,156.40 117.79,155.76 117.91,146.94 118.03,158.97 118.15,149.15 118.27,147.39 118.39,150.45 118.51,153.32 118.63,157.90 118.75,157.52 118.87,154.19 118.99,159.36 119.11,155.00 119.23,159.36 119.35,147.61 119.47,146.93 119.59,159.03 119.71,148.24 119.83,153.86 119.95,155.01 120.07,153.22 120.19,153.51 120.31,162.57 120.43,147.25 120.55,160.27 120.67,164.72 120.79,156.37 120.91,156.28 121.03,159.85 121.15,164.91 121.27,151.26 121.39,157.20 121.51,156.07 121.63,159.52 121.75,157.83 121.87,160.14 121.99,155.50 122.11,157.66 122.23,154.67 122.35,154.83 122.47,157.17 122.59,157.29 122.71,153.10 122.83,164.60 122.95,157.65 123.07,152.68 123.19,162.87 123.31,155.53 123.43,160.66 123.55,158.68 123.67,159.83 123.79,159.62 123.91,156.86 124.03,159.34 124.15,166.16 124.27,152.62 124.39,159.81 124.51,161.32 124.63,155.90 124.75,154.86 124.87,166.76 124.99,158.84 125.11,166.96 125.23,162.42 125.35,160.86 125.47,162.44 125.59,163.13 125.71,165.20 125.83,162.65 125.95,161.74 126.07,161.98 126.19,166.24 126.31,164.47 126.43,158.23 126.55,159.65 126.67,163.13 126.79,159.97 126.91,160.95 127.03,159.11 127.15,161.61 127.27,164.06 127.39,166.10 127.51,162.91 127.63,169.03 127.75,162.88 127.87,169.23 127.99,166.68 128.11,165.17 128.23,161.99 128.35,157.71 128.47,163.40 128.59,164.68 128.71,170.44 128.83,159.54 128.95,170.81 129.07,163.72 129.19,167.32 129.31,158.39 129.43,165.52 129.55,163.89 129.67,167.79 129.79,165.75 129.91,161.29 130.03,169.25 130.15,168.45 130.27,168.23 130.39,169.97 130.51,170.49 130.63,166.28 130.75,161.17 130.87,161.16 130.99,172.14 131.11,169.75 131.23,167.45 131.35,165.41 131.47,167.44 131.59,167.54 131.71,166.18 131.83,164.79 131.95,175.44 132.07,168.95 132.19,165.61 132.31,162.87 132.43,165.43 132.55,171.55 132.67,171.84 132.79,167.99 132.91,169.24 133.03,167.95 133.15,164.88 133.27,174.67 133.39,171.10 133.51,176.90 133.63,166.95 133.75,169.53 133.87,173.65 133.99,169.42 134.11,165.19 134.23,167.04 134.35,171.19 134.47,172.26 134.59,170.75 134.71,175.00 134.83,175.09 134.95,172.75 135.07,171.80 135.19,170.93 135.31,174.00 135.43,175.46 135.55,172.51 135.67,174.05 135.79,171.45 135.91,167.78 136.03,169.38 136.15,175.68 136.27,174.68 136.39,178.79 136.51,173.53 136.63,176.48 136.75,178.20 136.87,177.16 136.99,171.66 137.11,173.26 137.23,174.48 137.35,170.68 137.47,175.91 137.59,177.95 137.71,172.79 137.83,180.92 137.95,173.69 138.07,174.11 138.19,174.10 138.31,172.57 138.43,176.63 138.55,175.35 138.67,181.21 138.79,177.63 138.91,177.50 139.03,174.96 139.15,170.89 139.27,175.65 139.39,173.10 139.51,179.52 139.63,176.20 139.75,182.25 139.87,179.11 139.99,179.57 140.11,177.58 140.23,177.64 140.35,179.31 140.47,180.37 140.59,174.89 140.71,179.15 140.83,183.75 140.95,177.43 141.07,177.01 141.19,175.68 141.31,173.29 141.43,182.25 141.55,178.62 141.67,179.55 141.79,184.64 141.91,184.75 142.03,176.06 142.15,182.53 142.27,181.26 142.39,180.66 142.51,181.05 142.63,179.58 142.75,184.85 142.87,181.87 142.99,181.15 143.11,184.12 143.23,183.14 143.35,181.91 143.47,181.62 143.59,186.16 143.71,182.45 143.83,180.75 143.95,178.55 144.07,180.23 144.19,178.20 144.31,181.83 144.43,182.39 144.55,176.23 144.67,181.89 144.80,183.92 144.92,182.56 145.04,179.27 145.16,186.13 145.28,180.27 145.40,178.77 145.52,179.33 145.64,182.68 145.76,185.82 145.88,186.48 146.00,183.69 146.12,179.54 146.24,181.28 146.36,180.66 146.48,182.95 146.60,178.22 146.72,184.05 146.84,185.79 146.96,183.49 147.08,185.45 147.20,181.31 147.32,179.85 147.44,182.45 147.56,188.01 147.68,187.73 147.80,183.33 147.92,188.48 148.04,183.94 148.16,189.59 148.28,186.56 148.40,183.85 148.52,187.66 148.64,183.09 148.76,182.72 148.88,181.31 149.00,186.41 149.12,185.60 149.24,185.62 149.36,184.75 149.48,190.15 149.60,184.91 149.72,184.15 149.84,189.82 149.96,190.39 150.08,187.43 150.20,181.73 150.32,185.01 150.44,188.45 150.56,186.90 150.68,191.18 150.80,183.32 150.92,188.95 151.04,185.53 151.16,190.84 151.28,187.20 151.40,190.21 151.52,185.88 151.64,183.99 151.76,184.88 151.88,186.29 152.00,185.31 152.12,191.11 152.24,191.53 152.36,188.88 152.48,185.63 152.60,188.04 152.72,186.69 152.84,192.18 152.96,189.38 153.08,189.89 153.20,187.74 153.32,184.30 153.44,186.98 153.56,186.20 153.68,189.98 153.80,189.38 153.92,187.24 154.04,188.34 154.16,193.23 154.28,187.11 154.40,187.30 154.52,189.06 154.64,188.00 154.76,188.74 154.88,191.14 155.00,194.11 155.12,185.74 155.24,190.05 155.36,190.27 155.48,190.05 155.60,189.89 155.72,189.61 155.84,192.87 155.96,189.47 156.08,190.33 156.20,190.69 156.32,191.00 156.44,190.40 156.56,193.24 156.68,190.89 156.80,191.39 156.92,190.90 157.04,188.66 157.16,189.13 157.28,188.64 157.40,191.71 157.52,189.56 157.64,188.76 157.76,192.00 157.88,192.76 158.00,187.18 158.12,195.75 158.24,191.71 158.36,191.43 158.48,194.40 158.60,191.98 158.72,190.34 158.84,196.45 158.96,189.26 159.08,191.78 159.20,194.22 159.32,189.42 159.44,191.93 159.56,193.23 159.68,196.92 159.80,190.07 159.92,192.29 160.04,194.15 160.16,192.70 160.28,189.45 160.40,193.61 160.52,192.87 160.64,193.76 160.76,195.53 160.88,195.26 161.00,193.76 161.12,193.55 161.24,190.05 161.36,192.50 161.48,193.42 161.60,191.91 161.72,193.19 161.84,190.94 161.96,196.80 162.08,197.49 162.20,192.13 162.32,194.10 162.44,192.58 162.56,196.26 162.68,194.28 162.80,193.44 162.92,192.75 163.04,193.63 163.16,190.96 163.28,195.01 163.40,191.72 163.52,194.74 163.64,193.80 163.76,196.12 163.88,193.52 164.00,196.01 164.12,191.45 164.24,195.09 164.36,193.15 164.48,194.17 164.60,193.90 164.72,195.99 164.84,189.49 164.96,194.59 165.08,190.27 165.20,196.76 165.32,189.57 165.44,191.51 165.56,189.93 165.68,197.92 165.80,190.90 165.92,194.31 166.04,192.76 166.16,189.72 166.28,193.29 166.40,195.75 166.52,193.72 166.64,196.49 166.76,193.34 166.88,194.26 167.00,193.33 167.12,195.14 167.24,198.77 167.36,195.25 167.48,194.86 167.60,192.88 167.72,192.57 167.84,198.09 167.96,191.73 168.08,192.24 168.20,194.31 168.32,193.49 168.44,199.29 168.56,189.92 168.68,195.63 168.80,196.61 168.92,191.72 169.04,193.01 169.16,196.00 169.28,199.38 169.40,192.27 169.52,190.41 169.64,197.72 169.76,199.38 169.88,194.01 170.00,189.68 170.12,199.40 170.24,194.49 170.36,198.54 170.48,195.02 170.60,194.02 170.72,193.80 170.84,199.90 170.96,199.85 171.08,189.49 171.20,192.30 171.32,201.20 171.44,194.19 171.56,190.90 171.68,195.48 171.80,195.13 171.92,195.20 172.04,193.91 172.16,194.51 172.28,194.03 172.40,196.77 172.52,192.86 172.64,194.67 172.76,195.19 172.88,200.17 173.00,197.00 173.12,195.37 173.24,197.59 173.36,197.17 173.48,199.51 173.60,197.55 173.72,201.94 173.84,200.43 173.96,195.75 174.08,194.51 174.20,198.92 174.32,197.70 174.44,195.66 174.56,191.01 174.68,189.93 174.80,197.21 174.92,198.66 175.04,198.78 175.16,191.78 175.28,199.61 175.40,194.35 175.52,197.47 175.64,197.58 175.76,193.52 175.88,194.25 176.00,190.22 176.12,193.21 176.24,190.29 176.36,197.77 176.48,196.54 176.60,199.39 176.72,197.56 176.84,194.29 176.96,197.56 177.08,195.15 177.20,198.47 177.32,197.52 177.44,193.24 177.56,196.53 177.68,196.73 177.80,195.55 177.92,199.53 178.04,202.23 178.16,195.41 178.28,195.48 178.40,190.72 178.52,196.25 178.64,195.25 178.76,190.77 178.88,197.67 179.00,198.68 179.12,194.34 179.24,195.54 179.36,193.61 179.48,199.30 179.60,191.83 179.72,195.80 179.84,202.78 179.96,197.03 180.08,198.41 180.20,196.41 180.32,193.05 180.44,196.82 180.56,198.28 180.68,193.60 180.80,198.10 180.92,201.08 181.04,200.52 181.16,191.82 181.28,193.83 181.40,191.75 181.52,200.59 181.64,199.09 181.76,199.41 181.88,194.23 182.00,193.30 182.12,197.40 182.24,197.50 182.36,194.37 182.48,197.66 182.60,199.33 182.72,197.98 182.84,193.83 182.96,191.33 183.08,196.43 183.20,197.83 183.32,196.45 183.44,195.92 183.56,195.07 183.68,199.71 183.80,197.20 183.92,197.79 184.04,194.22 184.16,195.40 184.28,198.01 184.40,194.20 184.52,193.39 184.64,196.48 184.76,201.54 184.88,198.25 185.00,202.45 185.12,197.25 185.24,196.69 185.36,193.17 185.48,195.88 185.60,202.52 185.72,198.91 185.84,200.27 185.96,200.21 186.08,197.89 186.20,197.28 186.32,198.37 186.44,200.22 186.56,199.54 186.68,199.69 186.80,198.61 186.92,195.60 187.04,197.30 187.16,195.10 187.28,201.52 187.40,192.31 187.52,197.56 187.64,204.25 187.76,197.22 187.88,194.64 188.00,198.34 188.12,202.67 188.24,197.93 188.36,200.51 188.48,198.85 188.60,197.33 188.72,204.52 188.84,198.84 188.96,196.88 189.08,197.06 189.20,199.95 189.32,200.08 189.44,201.30 189.56,199.25 189.68,194.12 189.80,200.60 189.92,197.87 190.04,197.97 190.16,194.07 190.28,197.07 190.40,196.60 190.52,198.88 190.64,194.28 190.76,199.20 190.88,199.47 191.00,195.45 191.12,197.08 191.24,196.35 191.36,202.08 191.48,193.35 191.60,198.09 191.72,193.88 191.84,197.85 191.96,201.97 192.08,197.26 192.20,199.75 192.32,196.63 192.44,205.10 192.56,202.27 192.68,202.97 192.80,195.20 192.92,195.95 193.04,202.87 193.16,198.87 193.28,198.69 193.40,200.57 193.52,195.60 193.64,201.99 193.76,199.65 193.88,201.11 194.00,197.54 194.12,201.25 194.24,197.49 194.36,202.66 194.48,203.22 194.60,202.57 194.72,201.36 194.84,201.74 194.96,194.24 195.08,202.40 195.20,199.01 195.32,200.17 195.44,199.03 195.56,195.67 195.68,198.30 195.80,201.97 195.92,204.30 196.04,198.12 196.16,197.29 196.28,204.45 196.40,197.41 196.52,205.55 196.64,200.28 196.76,197.49 196.88,203.13 197.00,205.28 197.12,195.91 197.24,204.90 197.36,199.42 197.48,204.72 197.60,199.17 197.72,195.64 197.84,201.84 197.96,203.13 198.08,205.75 198.20,205.52 198.32,202.50 198.44,199.77 198.56,198.96 198.68,199.65 198.80,198.10 198.92,199.76 199.04,195.29 199.16,201.13 199.28,200.54 199.40,205.92 199.52,202.88 199.64,199.30 199.76,202.36 199.88,197.19 200.00,199.02 200.12,195.57 200.24,204.96 200.36,202.55 200.48,197.48 200.60,200.71 200.72,203.63 200.84,202.35 200.96,202.04 201.08,198.53 201.20,199.18 201.32,201.29 201.44,203.66 201.56,198.71 201.68,197.91 201.80,204.35 201.92,198.51 202.04,204.19 202.16,201.86 202.28,203.68 202.40,206.12 202.52,203.17 202.64,203.44 202.76,198.73 202.88,199.38 203.00,203.12 203.12,205.61 203.24,205.23 203.36,206.39 203.48,202.28 203.60,202.00 203.72,204.23 203.84,201.54 203.96,201.34 204.08,198.67 204.20,204.26 204.32,198.65 204.44,202.99 204.56,197.77 204.68,204.61 204.80,198.88 204.92,203.96 205.04,197.42 205.16,200.55 205.28,204.92 205.40,199.62 205.52,201.98 205.64,200.54 205.76,197.03 205.88,202.68 206.00,203.03 206.12,198.97 206.24,203.45 206.36,199.85 206.48,199.33 206.60,202.01 206.72,200.23 206.84,206.77 206.96,197.99 207.08,204.01 207.20,204.68 207.32,197.43 207.44,197.65 207.56,203.63 207.68,200.95 207.80,203.20 207.92,205.17 208.04,201.30 208.16,199.54 208.28,197.64 208.40,202.84 208.52,199.94 208.64,203.16 208.76,202.97 208.88,198.81 209.00,206.87 209.12,205.23 209.24,204.65 209.36,199.39 209.48,201.43 209.60,201.08 209.72,201.44 209.84,199.62 209.96,203.69 210.08,203.18 210.20,203.55 210.32,201.30 210.44,206.01 210.56,203.15 210.68,197.95 210.80,201.02 210.92,202.56 211.04,205.26 211.16,201.96 211.28,202.11 211.40,201.05 211.52,204.56 211.64,201.65 211.76,201.26 211.88,200.91 212.00,204.35 212.12,201.50 212.24,198.50 212.36,204.59 212.48,201.11 212.60,203.92 212.72,203.99 212.84,206.20 212.96,205.80 213.08,201.53 213.20,202.63 213.32,199.67 213.44,207.57 213.56,204.31 213.68,206.86 213.80,202.32 213.92,198.37 214.04,207.28 214.16,203.45 214.28,203.57 214.40,203.36 214.52,204.94 214.64,204.64 214.76,199.00 214.88,206.13 215.00,201.83 215.13,202.00 215.25,207.84 215.37,205.70 215.49,202.36 215.61,198.47 215.73,203.70 215.85,204.70 215.97,203.06 216.09,199.98 216.21,201.19 216.33,199.96 216.45,203.87 216.57,205.47 216.69,206.02 216.81,201.37 216.93,203.94 217.05,204.79 217.17,201.97 217.29,202.94 217.41,208.11 217.53,203.88 217.65,205.68 217.77,202.20 217.89,203.47 218.01,198.83 218.13,203.30 218.25,206.52 218.37,208.14 218.49,206.54 218.61,205.20 218.73,203.53 218.85,201.81 218.97,202.98 219.09,205.02 219.21,201.34 219.33,205.87 219.45,200.83 219.57,198.74 219.69,200.76 219.81,199.05 219.93,199.83 220.05,206.42 220.17,202.92 220.29,204.03 220.41,206.50 220.53,206.77 220.65,202.14 220.77,206.96 220.89,204.48 221.01,203.49 221.13,204.64 221.25,199.75 221.37,201.43 221.49,203.22 221.61,205.10 221.73,202.54 221.85,203.18 221.97,206.06 222.09,207.22 222.21,205.53 222.33,206.85 222.45,202.48 222.57,202.74 222.69,204.38 222.81,202.77 222.93,202.23 223.05,207.87 223.17,203.04 223.29,201.05 223.41,204.85 223.53,208.29 223.65,203.80 223.77,206.80 223.89,202.45 224.01,202.32 224.13,201.81 224.25,203.24 224.37,208.30 224.49,200.62 224.61,207.86 224.73,201.02 224.85,203.03 224.97,205.80 225.09,205.27 225.21,204.37 225.33,199.41 225.45,204.59 225.57,201.04 225.69,208.30 225.81,203.13 225.93,204.16 226.05,200.75 226.17,202.47 226.29,200.40 226.41,206.19 226.53,203.04 226.65,205.13 226.77,201.97 226.89,202.45 227.01,206.98 227.13,201.27 227.25,199.18 227.37,204.76 227.49,200.87 227.61,202.64 227.73,206.04 227.85,201.70 227.97,205.96 228.09,202.06 228.21,207.49 228.33,207.08 228.45,202.60 228.57,203.25 228.69,201.72 228.81,204.29 228.93,206.65 229.05,200.22 229.17,206.08 229.29,200.54 229.41,201.69 229.53,199.41 229.65,208.28 229.77,203.98 229.89,204.44 230.01,202.18 230.13,206.46 230.25,199.43 230.37,203.92 230.49,208.27 230.61,202.93 230.73,203.91 230.85,205.51 230.97,201.91 231.09,203.94 231.21,206.22 231.33,204.36 231.45,204.80 231.57,203.06 231.69,204.67 231.81,204.05 231.93,207.42 232.05,205.66 232.17,203.34 232.29,199.60 232.41,205.65 232.53,205.75 232.65,201.75 232.77,199.64 232.89,201.23 233.01,206.17 233.13,201.43 233.25,202.88 233.37,204.50 233.49,206.88 233.61,203.94 233.73,203.75 233.85,202.70 233.97,207.84 234.09,206.51 234.21,203.77 234.33,200.69 234.45,202.11 234.57,205.35 234.69,202.26 234.81,206.09 234.93,204.82 235.05,204.66 235.17,205.51 235.29,205.14 235.41,201.90 235.53,203.16 235.65,208.26 235.77,201.03 235.89,202.78 236.01,206.48 236.13,203.53 236.25,201.95 236.37,200.71 236.49,205.20 236.61,206.36 236.73,207.28 236.85,204.02 236.97,206.42 237.09,201.36 237.21,204.28 237.33,202.22 237.45,204.29 237.57,205.69 237.69,206.47 237.81,201.42 237.93,206.95 238.05,202.67 238.17,201.31 238.29,203.41 238.41,200.22 238.53,203.83 238.65,204.53 238.77,203.31 238.89,205.13 239.01,203.02 239.13,203.80 239.25,200.21 239.37,203.89 239.49,201.66 239.61,202.65 239.73,203.54 239.85,204.24 239.97,199.64 240.09,199.84 240.21,202.99 240.33,204.94 240.45,204.65 240.57,205.99 240.69,207.01 240.81,204.98 240.93,203.67 241.05,201.11 241.17,201.32 241.29,202.52 241.41,204.38 241.53,204.26 241.65,203.70 241.77,203.30 241.89,205.29 242.01,204.21 242.13,204.44 242.25,204.46 242.37,202.26 242.49,201.01 242.61,204.92 242.73,204.72 242.85,203.08 242.97,202.57 243.09,208.30 243.21,201.67 243.33,203.06 243.45,204.31 243.57,200.62 243.69,203.92 243.81,208.28 243.93,206.03 244.05,205.25 244.17,205.15 244.29,203.90 244.41,206.10 244.53,203.22 244.65,202.53 244.77,203.89 244.89,205.97 245.01,204.49 245.13,205.38 245.25,199.00 245.37,206.72 245.49,208.30 245.61,207.09 245.73,202.86 245.85,201.50 245.97,204.39 246.09,201.16 246.21,205.54 246.33,202.36 246.45,206.14 246.57,207.16 246.69,199.12 246.81,204.45 246.93,201.95 247.05,200.16 247.17,202.17 247.29,203.18 247.41,206.34 247.53,199.91 247.65,206.39 247.77,208.29 247.89,205.25 248.01,205.13 248.13,203.73 248.25,200.83 248.37,205.11 248.49,204.74 248.61,205.61 248.73,208.28 248.85,205.60 248.97,204.85 249.09,207.67 249.21,200.48 249.33,200.99 249.45,202.89 249.57,202.21 249.69,205.54 249.81,203.05 249.93,208.11 250.05,207.57 250.17,205.73 250.29,202.91 250.41,205.36 250.53,205.84 250.65,201.26 250.77,204.72 250.89,205.59 251.01,204.41 251.13,207.70 251.25,206.83 251.37,201.90 251.49,204.20 251.61,201.89 251.73,205.31 251.85,201.82 251.97,206.14 252.09,204.86 252.21,206.26 252.33,203.59 252.45,200.45 252.57,208.17 252.69,203.54 252.81,207.24 252.93,204.98 253.05,205.57 253.17,208.26 253.29,204.78 253.41,207.30 253.53,200.47 253.65,206.05 253.77,203.42 253.89,203.68 254.01,204.02 254.13,204.82 254.25,207.93 254.37,199.74 254.49,204.13 254.61,202.33 254.73,206.80 254.85,203.03 254.97,205.13 255.09,203.10 255.21,205.65 255.33,206.49 255.45,203.11 255.57,204.19 255.69,200.66 255.81,204.82 255.93,206.15 256.05,202.75 256.17,206.81 256.29,199.73 256.41,199.73 256.53,200.75 256.65,202.94 256.77,204.17 256.89,203.94 257.01,203.97 257.13,205.91 257.25,202.99 257.37,201.06 257.49,201.11 257.61,208.60 257.73,199.72 257.85,203.74 257.97,207.78 258.09,205.38 258.21,202.14 258.33,204.20 258.45,206.34 258.57,207.21 258.69,201.97 258.81,206.11 258.93,204.85 259.05,206.98 259.17,207.71 259.29,203.38 259.41,200.61 259.53,205.24 259.65,208.72 259.77,205.99 259.89,204.85 260.01,208.83 260.13,201.65 260.25,206.57 260.37,202.84 260.49,204.42 260.61,204.53 260.73,208.16 260.85,201.92 260.97,202.95 261.09,200.25 261.21,205.57 261.33,203.16 261.45,205.42 261.57,201.59 261.69,203.42 261.81,207.03 261.93,203.91 262.05,205.98 262.17,205.73 262.29,203.46 262.41,200.34 262.53,206.94 262.65,204.83 262.77,206.95 262.89,199.70 263.01,200.09 263.13,199.69 263.25,202.12 263.37,207.15 263.49,205.91 263.61,204.34 263.73,204.78 263.85,206.44 263.97,203.65 264.09,205.50 264.21,204.83 264.33,199.71 264.45,203.45 264.57,208.03 264.69,203.43 264.81,204.10 264.93,202.89 265.05,203.22 265.17,207.42 265.29,203.79 265.41,201.83 265.53,199.79 265.65,203.01 265.77,199.81 265.89,199.82 266.01,206.58 266.13,206.36 266.25,199.84 266.37,206.73 266.49,205.72 266.61,202.51 266.73,206.43 266.85,200.35 266.97,201.44 267.09,200.84 267.21,201.70 267.33,206.81 267.45,201.14 267.57,201.61 267.69,202.13 267.81,205.07 267.93,203.71 268.05,206.78 268.17,202.77 268.29,201.30 268.41,203.31 268.53,204.68 268.65,202.22 268.77,205.30 268.89,209.19 269.01,203.12 269.13,204.71 269.25,208.02 269.37,202.96 269.49,202.46 269.61,201.84 269.73,205.61 269.85,205.90 269.97,204.23 270.09,204.71 270.21,207.81 270.33,206.79 270.45,201.10 270.57,204.59 270.69,204.88 270.81,206.41 270.93,204.06 271.05,203.01 271.17,203.48 271.29,200.19 271.41,204.56 271.53,203.14 271.65,205.78 271.77,202.08 271.89,203.55 272.01,202.21 272.13,202.00 272.25,206.36 272.37,203.49 272.49,205.73 272.61,201.88 272.73,204.88 272.85,200.49 272.97,203.47 273.09,203.42 273.21,206.08 273.33,205.09 273.45,204.23 273.57,206.71 273.69,205.13 273.81,205.98 273.93,206.53 274.05,204.51 274.17,203.96 274.29,205.47 274.41,203.67 274.53,205.62 274.65,207.37 274.77,206.75 274.89,203.77 275.01,201.60 275.13,204.56 275.25,204.40 275.37,207.37 275.49,203.79 275.61,204.21 275.73,206.48 275.85,203.58 275.97,204.34 276.09,208.82 276.21,208.29 276.33,206.24 276.45,205.38 276.57,202.44 276.69,206.07 276.81,204.89 276.93,205.28 277.05,203.53 277.17,204.73 277.29,204.33 277.41,205.51 277.53,208.14 277.65,205.63 277.77,200.87 277.89,202.50 278.01,201.07 278.13,202.93 278.25,206.11 278.37,205.74 278.49,203.41 278.61,205.44 278.73,203.05 278.85,201.51 278.97,201.55 279.09,202.84 279.21,208.13 279.33,201.73 279.45,207.72 279.57,207.92 279.69,204.43 279.81,204.75 279.93,203.45 280.05,204.81 280.17,206.38 280.29,204.90 280.41,207.17 280.53,207.60 280.65,205.68 280.77,205.64 280.89,204.76 281.01,205.69 281.13,202.38 281.25,205.83 281.37,205.38 281.49,202.97 281.61,209.14 281.73,202.74 281.85,202.98 281.97,205.57 282.09,200.99 282.21,203.17 282.33,201.53 282.45,202.79 282.57,204.67 282.69,205.68 282.81,207.44 282.93,206.78 283.05,207.62 283.17,206.30 283.29,203.95 283.41,207.47 283.53,203.92 283.65,203.65 283.77,208.39 283.89,206.75 284.01,205.50 284.13,206.68 284.25,206.96 284.37,202.04 284.49,204.83 284.61,202.46 284.73,205.32 284.85,203.59 284.97,208.02 285.09,206.19 285.21,203.30 285.33,205.03 285.46,202.45 285.58,205.17 285.70,206.27 285.82,205.66 285.94,201.32 286.06,204.38 286.18,206.20 286.30,205.77 286.42,207.60 286.54,202.37 286.66,206.25 286.78,203.74 286.90,205.55 287.02,206.00 287.14,206.61 287.26,203.92 287.38,205.55 287.50,202.68 287.62,202.18 287.74,206.34 287.86,205.06 287.98,201.77 288.10,203.39 288.22,205.23 288.34,208.48 288.46,207.41 288.58,206.89 288.70,201.49 288.82,205.00 288.94,206.23 289.06,206.06 289.18,206.11 289.30,204.73 289.42,209.00 289.54,208.40 289.66,205.04 289.78,203.14 289.90,209.27 290.02,204.06 290.14,207.84 290.26,209.30 290.38,203.22 290.50,205.90 290.62,204.52 290.74,206.40 290.86,205.98 290.98,209.36 291.10,206.59 291.22,205.28 291.34,207.77 291.46,204.71 291.58,204.51 291.70,209.42 291.82,203.52 291.94,204.25 292.06,205.43 292.18,203.00 292.30,201.47 292.42,207.69 292.54,203.61 292.66,204.15 292.78,204.53 292.90,203.18 293.02,202.97 293.14,205.73 293.26,209.55 293.38,207.03 293.50,207.06 293.62,202.01 293.74,205.34 293.86,202.74 293.98,207.15 294.10,204.90 294.22,205.50 294.34,205.22 294.46,204.10 294.58,201.97 294.70,206.75 294.82,202.29 294.94,202.75 295.06,204.77 295.18,203.84 295.30,206.06 295.42,207.78 295.54,206.04 295.66,205.92 295.78,205.53 295.90,207.46 296.02,201.45 296.14,206.34 296.26,203.34 296.38,202.64 296.50,205.51 296.62,204.61 296.74,206.87 296.86,208.08 296.98,201.45 297.10,205.36 297.22,209.89 297.34,207.57 297.46,208.93 297.58,205.78 297.70,202.18 297.82,202.91 297.94,207.23 298.06,207.82 298.18,203.85 298.30,204.95 298.42,206.19 298.54,201.50 298.66,204.77 298.78,209.37 298.90,209.95 299.02,205.36 299.14,209.87 299.26,204.40 299.38,203.75 299.50,201.59 299.62,207.85 299.74,204.78 299.86,209.95 299.98,206.42 300.10,206.09 300.22,201.66 300.34,209.11 300.46,204.85 300.58,205.32 300.70,201.70 300.82,207.80 300.94,207.95 301.06,204.33 301.18,205.92 301.30,206.61 301.42,207.90 301.54,205.97 301.66,209.62 301.78,205.20 301.90,204.39 302.02,204.71 302.14,201.84 302.26,203.96 302.38,208.02 302.50,206.37 302.62,203.96 302.74,206.57 302.86,201.91 302.98,205.17 303.10,206.97 303.22,207.36 303.34,204.11 303.46,207.84 303.58,209.93 303.70,204.90 303.82,207.47 303.94,202.44 304.06,202.02 304.18,207.20 304.30,205.96 304.42,206.31 304.54,204.61 304.66,205.25 304.78,207.65 304.90,209.61 305.02,205.43 305.14,202.35 305.26,208.66 305.38,207.22 305.50,207.39 305.62,206.32 305.74,209.91 305.86,206.11 305.98,207.05 306.10,202.22 306.22,204.73 306.34,204.51 306.46,205.91 306.58,206.71 306.70,204.40 306.82,209.64 306.94,203.75 307.06,205.05 307.18,206.51 307.30,203.39 307.42,207.21 307.54,207.35 307.66,205.42 307.78,209.90 307.90,206.21 308.02,206.63 308.14,204.05 308.26,202.56 308.38,204.73 308.50,205.38 308.62,205.10 308.74,207.64 308.86,202.40 308.98,203.69 309.10,202.40 309.22,208.83 309.34,204.87 309.46,204.97 309.58,203.75 309.70,207.91 309.82,205.19 309.94,206.51 310.06,202.40 310.18,208.48 310.30,206.87 310.42,207.19 310.54,208.62 310.66,205.64 310.78,205.70 310.90,207.54 311.02,206.93 311.14,205.54 311.26,206.14 311.38,205.00 311.50,207.53 311.62,207.99 311.74,206.06 311.86,209.90 311.98,202.85 312.10,205.56 312.22,209.61 312.34,205.17 312.46,202.72 312.58,208.95 312.70,207.18 312.82,203.56 312.94,207.66 313.06,203.92 313.18,203.26 313.30,205.73 313.42,205.05 313.54,203.77 313.66,205.29 313.78,203.96 313.90,206.18 314.02,206.00 314.14,207.60 314.26,205.10 314.38,203.28 314.50,203.30 314.62,205.54 314.74,209.25 314.86,207.82 314.98,204.72 315.10,208.01 315.22,203.64 315.34,208.16 315.46,205.25 315.58,207.65 315.70,207.35 315.82,205.47 315.94,206.73 316.06,203.83 316.18,205.90 316.30,208.31 316.42,209.90 316.54,207.52 316.66,206.24 316.78,203.94 316.90,208.26 317.02,202.60 317.14,204.38 317.26,206.80 317.38,203.54 317.50,209.26 317.62,208.33 317.74,204.87 317.86,204.90 317.98,203.31 318.10,203.14 318.22,206.98 318.34,207.35 318.46,206.79 318.58,206.61 318.70,204.89 318.82,206.80 318.94,202.99 319.06,206.07 319.18,209.13 319.30,208.81 319.42,205.09 319.54,205.36 319.66,208.93 319.78,209.78 319.90,202.94 320.02,205.17 320.14,206.54 320.26,208.59 320.38,204.31 320.50,207.39" fill="none" stroke="#000" stroke-width="1.0" stroke-linejoin="miter"/>
<g stroke="#4a4a4a" stroke-width="1.3"><line x1="46.09" y1="212.55" x2="46.09" y2="215.55"/><line x1="64.40" y1="212.55" x2="64.40" y2="217.05"/><line x1="82.71" y1="212.55" x2="82.71" y2="215.55"/><line x1="101.02" y1="212.55" x2="101.02" y2="217.05"/><line x1="119.33" y1="212.55" x2="119.33" y2="215.55"/><line x1="137.64" y1="212.55" x2="137.64" y2="217.05"/><line x1="155.95" y1="212.55" x2="155.95" y2="215.55"/><line x1="174.26" y1="212.55" x2="174.26" y2="217.05"/><line x1="192.57" y1="212.55" x2="192.57" y2="215.55"/><line x1="210.88" y1="212.55" x2="210.88" y2="217.05"/><line x1="229.19" y1="212.55" x2="229.19" y2="215.55"/><line x1="247.50" y1="212.55" x2="247.50" y2="217.05"/><line x1="265.81" y1="212.55" x2="265.81" y2="215.55"/><line x1="284.12" y1="212.55" x2="284.12" y2="217.05"/><line x1="302.43" y1="212.55" x2="302.43" y2="215.55"/><line x1="320.74" y1="212.55" x2="320.74" y2="217.05"/></g>
<g font-size="12.9" text-anchor="middle" fill="#000" stroke="#000" stroke-width="0.08"><text x="64.40" y="229.7">10</text><text x="101.02" y="229.7">20</text><text x="137.64" y="229.7">30</text><text x="174.26" y="229.7">40</text><text x="210.88" y="229.7">50</text><text x="247.50" y="229.7">60</text><text x="284.12" y="229.7">70</text><text x="320.74" y="229.7">80</text></g>
<text class="b" x="130.3" y="252.9" font-size="14.0">2 theta (degrees)</text>
<text class="b" font-size="14.2" transform="translate(18.8,117.4) rotate(-90)" text-anchor="middle">Intensity (a.u.)</text>
<text class="b" x="82.6" y="37.1" font-size="13">(020)</text>
<text class="b" x="119.1" y="48.9" font-size="13">(200)</text>
<text class="b" x="77.8" y="131.8" font-size="13.2">d</text>
<text class="b" x="84" y="136.1" font-size="8.5">002</text>
<text class="b" x="96.8" y="132.1" font-size="13.2" letter-spacing="0.33">= 0.39 nm</text>
<!-- bottom plot -->
<polyline points="35.70,469.29 36.03,470.91 36.46,469.74 36.97,469.40 37.54,469.29 38.15,470.13 38.78,469.90 39.40,468.83 40.00,469.60 40.59,468.65 41.20,468.98 41.82,468.63 42.46,468.58 43.09,468.93 43.73,468.71 44.37,469.56 45.00,469.65 45.63,468.95 46.27,468.33 46.92,469.39 47.56,467.58 48.20,467.52 48.82,468.99 49.42,468.81 50.00,468.86 50.55,467.97 51.07,467.12 51.57,467.34 52.06,467.75 52.54,466.72 53.02,466.57 53.51,466.01 54.00,466.07 54.50,467.29 55.00,467.13 55.50,466.29 56.00,466.50 56.50,466.99 57.00,467.81 57.50,466.90 58.00,467.57 58.50,466.39 59.00,466.91 59.50,467.89 60.00,468.11 60.50,466.81 61.00,466.96 61.50,467.83 62.00,467.04 62.50,466.87 63.00,467.41 63.50,467.11 64.00,467.56 64.50,467.26 65.00,466.35 65.50,466.55 66.00,466.54 66.49,465.74 66.98,465.99 67.46,467.20 67.94,465.71 68.43,467.32 68.93,466.93 69.45,466.70 70.00,467.10 70.58,467.04 71.20,467.45 71.85,466.44 72.50,466.49 73.15,466.40 73.80,467.59 74.42,466.90 75.00,465.62 75.55,465.77 76.08,465.30 76.59,465.46 77.08,465.28 77.57,466.22 78.04,463.44 78.52,464.86 79.00,464.24 79.48,463.30 79.97,463.39 80.45,463.27 80.93,461.61 81.40,462.42 81.85,462.91 82.29,462.86 82.70,462.22 83.09,462.64 83.45,463.84 83.79,461.71 84.11,460.70 84.43,463.68 84.75,460.87 85.07,462.57 85.40,461.61 85.74,460.16 86.09,461.20 86.45,461.75 86.80,457.42 87.15,459.33 87.48,458.63 87.80,459.45 88.10,457.28 88.37,457.74 88.61,456.82 88.84,455.97 89.05,457.25 89.26,454.59 89.49,455.26 89.73,455.67 90.00,454.77 90.30,454.95 90.62,453.92 90.95,453.14 91.30,454.12 91.65,452.08 92.01,451.51 92.36,450.34 92.70,449.94 93.04,450.18 93.37,449.54 93.71,448.60 94.04,447.57 94.38,447.79 94.72,445.74 95.06,445.93 95.40,445.34 95.75,444.33 96.10,444.27 96.45,443.11 96.80,442.35 97.15,443.23 97.50,441.89 97.85,441.44 98.20,440.02 98.54,439.83 98.88,438.99 99.22,438.50 99.56,438.44 99.89,436.09 100.23,435.41 100.56,434.54 100.90,433.60 101.24,432.60 101.57,431.56 101.91,430.46 102.24,429.33 102.58,428.16 102.92,426.96 103.26,425.74 103.60,424.50 103.95,423.24 104.30,421.94 104.65,420.62 105.00,419.28 105.35,417.90 105.70,416.49 106.05,415.06 106.40,413.60 106.74,412.10 107.08,410.55 107.42,408.97 107.76,407.36 108.09,405.74 108.43,404.12 108.76,402.50 109.10,400.90 109.44,399.32 109.79,397.74 110.13,396.16 110.48,394.58 110.82,393.00 111.16,391.41 111.49,389.81 111.80,388.20 112.10,386.57 112.39,384.91 112.67,383.23 112.95,381.56 113.22,379.88 113.48,378.23 113.74,376.60 114.00,375.00 114.25,373.42 114.50,371.85 114.74,370.28 114.98,368.74 115.21,367.23 115.44,365.76 115.67,364.35 115.90,363.00 116.13,361.71 116.37,360.45 116.60,359.25 116.83,358.09 117.06,356.98 117.28,355.93 117.49,354.93 117.70,354.00 117.89,353.15 118.07,352.38 118.23,351.68 118.39,351.02 118.56,350.41 118.72,349.81 118.90,349.21 119.10,348.60 119.31,347.94 119.54,347.24 119.78,346.54 120.02,345.85 120.27,345.22 120.52,344.68 120.76,344.26 121.00,344.00 121.23,343.91 121.46,343.98 121.68,344.16 121.91,344.44 122.13,344.77 122.35,345.13 122.58,345.48 122.80,345.80 123.02,346.09 123.25,346.39 123.47,346.70 123.70,347.03 123.92,347.38 124.15,347.76 124.38,348.16 124.60,348.60 124.82,349.08 125.05,349.61 125.27,350.16 125.50,350.74 125.72,351.34 125.95,351.94 126.17,352.53 126.40,353.10 126.62,353.64 126.84,354.16 127.06,354.66 127.28,355.18 127.50,355.71 127.72,356.28 127.96,356.90 128.20,357.60 128.46,358.40 128.72,359.29 129.00,360.26 129.27,361.25 129.56,362.24 129.84,363.21 130.12,364.10 130.40,364.90 130.68,365.64 130.96,366.37 131.24,367.07 131.52,367.72 131.80,368.30 132.08,368.78 132.34,369.16 132.60,369.40 132.84,369.51 133.08,369.50 133.30,369.38 133.53,369.17 133.74,368.88 133.96,368.51 134.18,368.08 134.40,367.60 134.62,367.05 134.84,366.41 135.05,365.69 135.27,364.91 135.49,364.07 135.71,363.18 135.95,362.25 136.20,361.30 136.47,360.28 136.75,359.18 137.05,358.01 137.35,356.81 137.65,355.60 137.95,354.41 138.23,353.27 138.50,352.20 138.75,351.22 138.98,350.31 139.21,349.44 139.43,348.60 139.64,347.76 139.85,346.89 140.07,345.98 140.30,345.00 140.53,343.93 140.77,342.80 141.01,341.61 141.25,340.40 141.49,339.20 141.73,338.03 141.97,336.92 142.20,335.90 142.43,334.92 142.66,333.94 142.88,332.98 143.11,332.07 143.33,331.25 143.55,330.52 143.78,329.93 144.00,329.50 144.23,329.22 144.46,329.06 144.70,329.02 144.94,329.09 145.17,329.27 145.39,329.55 145.60,329.93 145.80,330.40 145.98,330.98 146.14,331.69 146.30,332.51 146.44,333.42 146.58,334.42 146.72,335.47 146.86,336.57 147.00,337.70 147.14,338.88 147.29,340.13 147.43,341.44 147.57,342.81 147.71,344.22 147.85,345.66 147.98,347.13 148.10,348.60 148.22,350.07 148.33,351.55 148.44,353.05 148.54,354.59 148.64,356.17 148.73,357.80 148.82,359.51 148.90,361.30 148.97,363.18 149.04,365.14 149.10,367.16 149.15,369.24 149.20,371.38 149.26,373.56 149.33,375.77 149.40,378.00 149.48,380.29 149.56,382.67 149.65,385.10 149.74,387.56 149.84,390.03 149.95,392.47 150.07,394.87 150.20,397.20 150.35,399.47 150.51,401.70 150.69,403.91 150.88,406.08 151.06,408.23 151.25,410.35 151.43,412.44 151.60,414.50 151.76,416.54 151.90,418.54 152.04,420.52 152.18,422.47 152.32,424.39 152.47,426.29 152.63,428.16 152.80,430.00 152.99,431.84 153.18,433.69 153.38,435.53 153.59,437.33 153.80,439.08 154.03,440.76 154.26,442.34 154.50,443.80 154.75,445.14 155.00,446.36 155.25,447.48 155.52,448.53 155.79,449.53 156.08,450.49 156.38,451.44 156.70,452.40 157.03,453.36 157.36,454.28 157.71,455.19 158.07,456.21 158.44,456.87 158.84,455.62 159.26,457.69 159.70,459.31 160.17,460.42 160.66,460.41 161.18,462.13 161.72,462.88 162.27,462.50 162.84,464.21 163.42,464.99 164.00,464.78 164.60,464.45 165.22,466.44 165.85,465.96 166.49,466.30 167.15,467.03 167.80,467.03 168.45,468.35 169.10,468.47 169.75,468.96 170.39,468.75 171.04,468.03 171.69,468.49 172.35,469.17 173.00,468.44 173.65,470.48 174.30,468.65 174.95,468.53 175.59,469.64 176.24,469.47 176.88,469.07 177.53,469.01 178.18,469.46 178.84,469.76 179.50,469.76 180.17,469.15 180.86,469.61 181.54,469.87 182.24,469.83 182.93,467.54 183.62,468.87 184.32,468.98 185.00,469.36 185.68,469.69 186.35,470.24 187.03,470.17 187.70,469.85 188.37,470.07 189.05,471.24 189.72,469.93 190.40,470.58 191.08,471.44 191.77,470.81 192.46,469.47 193.15,471.02 193.84,470.64 194.53,470.87 195.22,471.62 195.90,471.28 196.59,470.83 197.30,471.48 198.01,471.14 198.72,470.86 199.41,470.88 200.08,470.75 200.71,470.29 201.30,470.12 201.84,470.33 202.32,469.65 202.78,469.39 203.21,470.83 203.62,469.80 204.04,469.81 204.46,469.60 204.90,469.51 205.37,469.28 205.85,469.01 206.34,468.15 206.82,468.85 207.30,467.54 207.76,468.28 208.20,466.28 208.60,466.66 208.95,467.86 209.27,467.22 209.55,467.00 209.81,467.78 210.08,467.09 210.35,467.94 210.66,466.73 211.00,467.93 211.38,467.94 211.77,468.81 212.19,469.17 212.62,468.29 213.07,469.92 213.53,468.72 214.01,467.93 214.50,467.77 215.01,470.11 215.55,469.08 216.11,468.65 216.68,468.48 217.26,468.14 217.84,469.47 218.43,468.47 219.00,469.47 219.57,468.17 220.15,466.77 220.72,468.57 221.30,467.73 221.88,467.69 222.45,468.64 223.03,467.40 223.60,468.10 224.17,467.23 224.73,466.60 225.29,467.16 225.85,466.30 226.41,467.19 226.97,466.81 227.53,466.06 228.10,466.17 228.67,465.92 229.25,465.19 229.82,465.66 230.40,464.76 230.98,465.02 231.55,463.84 232.13,464.22 232.70,464.15 233.27,463.16 233.83,463.12 234.39,462.78 234.96,463.26 235.52,462.10 236.08,462.50 236.64,462.84 237.20,461.82 237.76,460.29 238.32,460.98 238.88,461.15 239.44,459.98 240.01,460.43 240.57,459.74 241.13,459.24 241.70,458.45 242.27,457.92 242.85,457.70 243.42,457.52 244.00,457.42 244.58,456.98 245.15,456.18 245.73,456.02 246.30,455.84 246.87,454.26 247.43,454.40 247.99,454.01 248.56,453.99 249.12,453.57 249.68,453.21 250.24,452.46 250.80,453.01 251.36,452.39 251.92,450.85 252.48,451.45 253.04,450.38 253.60,451.68 254.16,450.00 254.73,449.65 255.30,449.56 255.89,449.01 256.50,448.70 257.12,449.28 257.74,448.10 258.35,448.09 258.94,447.92 259.49,446.32 260.00,447.62 260.45,446.76 260.84,446.68 261.20,445.38 261.53,446.19 261.86,445.77 262.21,445.03 262.58,446.55 263.00,445.35 263.46,444.69 263.94,444.79 264.43,445.06 264.95,445.03 265.48,444.56 266.04,444.80 266.61,444.82 267.20,443.07 267.82,443.41 268.46,443.04 269.13,443.57 269.82,444.29 270.51,443.74 271.21,442.64 271.91,443.02 272.60,443.73 273.28,442.69 273.97,442.83 274.66,442.93 275.35,441.53 276.04,442.98 276.73,442.65 277.42,442.78 278.10,441.92 278.78,442.21 279.46,442.54 280.13,443.34 280.81,443.56 281.48,443.95 282.15,445.31 282.83,445.37 283.50,444.48 284.17,444.83 284.85,446.56 285.52,445.66 286.19,446.99 286.87,447.44 287.54,446.47 288.22,446.94 288.90,447.46 289.58,447.20 290.27,447.43 290.96,448.07 291.66,449.12 292.35,448.64 293.04,449.08 293.72,449.23 294.40,448.99 295.08,451.01 295.75,449.02 296.42,450.34 297.09,451.37 297.76,450.51 298.41,452.03 299.06,452.74 299.70,451.80 300.33,452.78 300.96,452.33 301.59,453.66 302.21,453.77 302.81,454.21 303.40,455.25 303.96,455.06 304.50,455.92 305.01,455.80 305.50,454.98 305.96,456.11 306.41,456.51 306.85,455.62 307.27,457.59 307.69,457.16 308.10,457.73 308.50,457.42 308.89,458.50 309.26,459.17 309.63,459.35 309.99,460.17 310.36,459.43 310.72,462.08 311.10,461.14 311.48,461.04 311.86,462.33 312.23,462.97 312.61,464.36 313.00,464.02 313.39,465.26 313.79,465.00 314.20,467.34 314.63,466.74 315.06,467.95 315.51,466.50 315.97,467.82 316.43,467.13 316.89,468.31 317.35,468.61 317.80,467.45 318.25,467.90 318.70,468.01 319.15,467.90 319.60,468.44 320.05,468.37 320.50,468.14 320.95,469.16 321.40,469.54 321.86,468.56 322.34,469.18 322.82,469.70 323.30,469.74 323.77,469.64 324.21,470.71 324.63,470.89 325.00,470.92 325.34,470.49 325.66,471.89 325.96,471.82 326.23,470.60 326.47,470.82 326.68,471.65 326.86,470.49 327.00,471.25" fill="none" stroke="#000" stroke-width="1.05" stroke-linejoin="round"/>
<rect x="35.7" y="266.2" width="291.30" height="231.30" fill="none" stroke="#000" stroke-width="1.8"/>
<g stroke="#000" stroke-width="1.5"><line x1="35.70" y1="497.5" x2="35.70" y2="500.7"/><line x1="60.81" y1="497.5" x2="60.81" y2="500.7"/><line x1="85.92" y1="497.5" x2="85.92" y2="500.7"/><line x1="111.04" y1="497.5" x2="111.04" y2="500.7"/><line x1="136.15" y1="497.5" x2="136.15" y2="500.7"/><line x1="161.26" y1="497.5" x2="161.26" y2="500.7"/><line x1="186.37" y1="497.5" x2="186.37" y2="500.7"/><line x1="211.48" y1="497.5" x2="211.48" y2="500.7"/><line x1="236.60" y1="497.5" x2="236.60" y2="500.7"/><line x1="261.71" y1="497.5" x2="261.71" y2="500.7"/><line x1="286.82" y1="497.5" x2="286.82" y2="500.7"/><line x1="311.93" y1="497.5" x2="311.93" y2="500.7"/></g>
<g font-size="14.8" text-anchor="middle" fill="#000" stroke="#000" stroke-width="0.08"><text x="35.70" y="515.7">500</text><text x="85.92" y="515.7">1000</text><text x="136.15" y="515.7">1500</text><text x="186.37" y="515.7">2000</text><text x="236.60" y="515.7">2500</text><text x="286.82" y="515.7">3000</text></g>
<text class="b" x="117.4" y="544.6" font-size="15.6">Raman Shift</text>
<text class="b" x="207.7" y="544.2" font-size="9.8">(</text>
<text class="b" transform="translate(210.9,544.4) scale(1,0.86)" font-size="16">cm</text>
<text class="b" x="231.9" y="539.1" font-size="10.6" letter-spacing="-0.2">&#8722;1</text>
<text class="b" x="242.7" y="544.4" font-size="9.6">)</text>
<text class="b" font-size="15.9" transform="translate(14.6,386.1) rotate(-90) scale(1,0.9)" text-anchor="middle">Intensity (a.u.)</text>
<text class="b" x="54.2" y="338.0" font-size="13.55">D 1350 cm</text>
<text class="b" x="115.5" y="333.3" font-size="13">&#8722;</text><text class="b" x="122.3" y="331.3" font-size="14">1</text>
<text class="b" x="146.9" y="322.6" font-size="13.6">G 1585 cm</text>
<text class="b" x="210" y="317.8" font-size="13">&#8722;</text><text class="b" x="216.9" y="316.5" font-size="14">1</text>
<text class="b" x="39.4" y="443.9" font-size="13.1">730 cm</text>
<text class="b" x="79.7" y="438.9" font-size="12.5">&#8722;</text><text class="b" x="86.3" y="437.2" font-size="14">1</text>
<text class="b" x="184.5" y="456.8" font-size="13.2">sp</text>
<text class="b" x="196.8" y="451.4" font-size="13.5">1</text>
<text class="b" x="207.2" y="456.8" font-size="13.2">CN</text>
<text class="b" x="238" y="418.8" font-size="13.8">Nitrogeneous</text>
<text class="b" x="255.3" y="435.9" font-size="13.33">carbon</text>
<ellipse cx="55.8" cy="470.4" rx="9.35" ry="11.75" fill="none" stroke="#ff0000" stroke-width="1.9"/>
</svg>
</body></html>
